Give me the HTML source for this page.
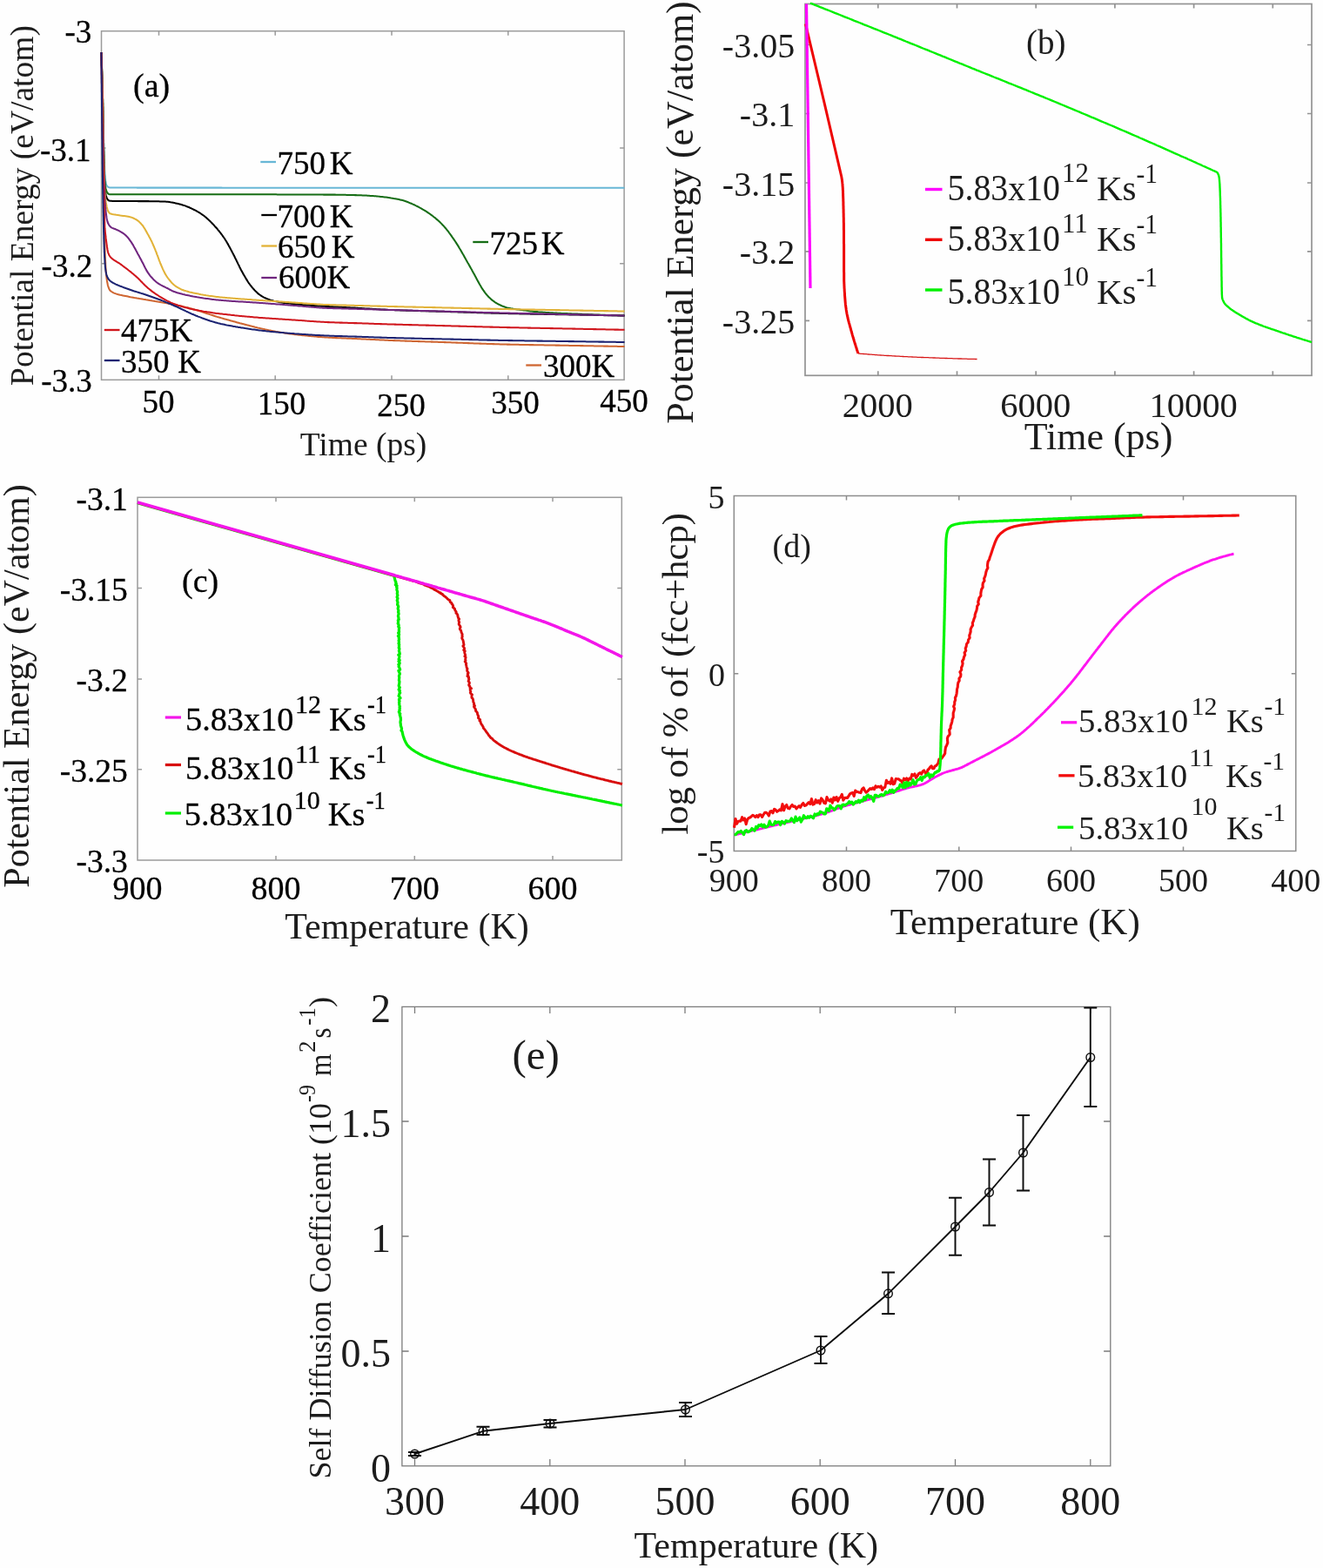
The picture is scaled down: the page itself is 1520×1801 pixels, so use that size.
<!DOCTYPE html>
<html lang="en">
<head>
<meta charset="utf-8">
<title>Potential energy, crystallinity and self diffusion figure</title>
<style>
html,body{margin:0;padding:0;background:#fefefe;}
body{width:1520px;height:1801px;overflow:hidden;}
svg{display:block;}
svg text{font-family:"Liberation Serif","Times New Roman",serif;fill:#1c1c1c;}
svg text.b{fill:#000;stroke:#000;stroke-width:0.3px;stroke-linejoin:round;}
</style>
</head>
<body>
<svg width="1520" height="1801" viewBox="0 0 1520 1801">
<defs><filter id="soft" x="0" y="0" width="100%" height="100%" filterUnits="userSpaceOnUse"><feGaussianBlur stdDeviation="0.45"/></filter></defs>
<rect width="1520" height="1801" fill="#fefefe"/>
<g filter="url(#soft)">
<rect x="116.5" y="35.7" width="600.6" height="400.6" fill="none" stroke="#9b9b9b" stroke-width="1.5"/>
<path d="M182.5 436.3v-5M182.5 35.7v5M316.2 436.3v-5M316.2 35.7v5M450 436.3v-5M450 35.7v5M583.8 436.3v-5M583.8 35.7v5M116.5 170h5M717.1 170h-5M116.5 302.7h5M717.1 302.7h-5" fill="none" stroke="#9b9b9b" stroke-width="1.5"/>
<polyline points="116.4,60 116.5,61.5 116.5,63 116.5,64.5 116.6,66 116.6,67.5 116.7,69 116.7,70.5 116.8,72 116.8,73.5 116.9,75 116.9,76.5 117,78 117,79.5 117.1,81 117.1,82.6 117.2,84.1 117.2,85.6 117.3,87.1 117.3,88.6 117.4,90.1 117.4,91.6 117.4,93.1 117.5,94.6 117.5,96.1 117.6,97.6 117.6,99.1 117.7,100.6 117.7,102.1 117.8,103.6 117.8,105.1 117.8,106.6 117.9,108.1 117.9,109.6 118,111.1 118,112.6 118,114.1 118.1,115.6 118.1,117.1 118.2,118.6 118.2,120.1 118.2,121.6 118.3,123.1 118.3,124.6 118.4,126.2 118.4,127.7 118.4,129.2 118.5,130.7 118.5,132.2 118.5,133.7 118.5,135.2 118.6,136.7 118.6,138.2 118.6,139.7 118.7,141.2 118.7,142.7 118.7,144.2 118.8,145.7 118.8,147.2 118.8,148.7 118.8,150.2 118.9,151.7 118.9,153.2 118.9,154.7 119,156.2 119,157.7 119,159.2 119.1,160.7 119.1,162.2 119.1,163.7 119.2,165.3 119.2,166.8 119.2,168.3 119.3,169.8 119.3,171.3 119.4,172.8 119.4,174.3 119.5,175.8 119.5,177.3 119.6,178.8 119.6,180.3 119.7,181.8 119.7,183.3 119.8,184.8 119.8,186.3 119.9,187.8 119.9,189.3 120,190.8 120.1,192.3 120.1,193.8 120.2,195.4 120.3,196.9 120.4,198.4 120.5,199.9 120.6,201.4 120.7,202.8 120.8,204.3 121,205.8 121.1,207.4 121.4,208.9 121.7,210.5 122.1,211.9 122.6,213.1 123.6,214.3 125,215.2 126.3,215.5 127.7,215.5 129,215.5 130.4,215.5 131.8,215.5 133.2,215.5 134.6,215.5 136,215.5 137.4,215.5 138.9,215.5 140.4,215.5 141.8,215.5 143.3,215.5 144.8,215.5 146.4,215.5 147.9,215.5 149.4,215.5 150.9,215.5 152.5,215.5 154,215.5 155.6,215.5 157.1,215.6 158.7,215.6 160.3,215.6 161.8,215.6 163.4,215.6 165,215.6 166.5,215.6 168.1,215.6 169.7,215.6 171.2,215.6 172.8,215.6 174.4,215.6 175.9,215.6 177.4,215.6 179,215.6 180.5,215.6 182,215.6 183.5,215.6 185,215.6 186.6,215.6 188.1,215.6 189.6,215.6 191.1,215.6 192.6,215.6 194.1,215.6 195.6,215.6 197.1,215.6 198.6,215.6 200.1,215.6 201.6,215.6 203.1,215.6 204.6,215.6 206.1,215.6 207.6,215.6 209.1,215.6 210.6,215.6 212.1,215.6 213.6,215.6 215.1,215.6 216.6,215.6 218.1,215.6 219.6,215.6 221.1,215.6 222.7,215.6 224.2,215.6 225.7,215.6 227.2,215.6 228.7,215.6 230.2,215.6 231.7,215.6 233.2,215.6 234.7,215.6 236.2,215.6 237.7,215.6 239.2,215.6 240.7,215.6 242.2,215.6 243.7,215.6 245.2,215.6 246.7,215.6 248.2,215.6 249.7,215.6 251.2,215.6 252.7,215.6 254.2,215.6 255.7,215.7 257.2,215.7 258.7,215.7 260.3,215.7 261.8,215.7 263.3,215.7 264.8,215.7 266.3,215.7 267.8,215.7 269.3,215.7 270.8,215.7 272.3,215.7 273.8,215.7 275.3,215.7 276.8,215.7 278.3,215.7 279.8,215.7 281.3,215.7 282.8,215.7 284.3,215.7 285.8,215.7 287.3,215.7 288.8,215.7 290.3,215.7 291.8,215.7 293.3,215.7 294.8,215.7 296.4,215.7 297.9,215.7 299.4,215.7 300.9,215.7 302.4,215.7 303.9,215.7 305.4,215.7 306.9,215.7 308.4,215.7 309.9,215.7 311.4,215.7 312.9,215.7 314.4,215.7 315.9,215.7 317.4,215.7 318.9,215.7 320.4,215.7 321.9,215.7 323.4,215.7 324.9,215.7 326.4,215.7 327.9,215.7 329.4,215.7 330.9,215.7 332.5,215.7 334,215.7 335.5,215.7 337,215.7 338.5,215.7 340,215.7 341.5,215.7 343,215.7 344.5,215.7 346,215.7 347.5,215.7 349,215.7 350.5,215.7 352,215.7 353.5,215.7 355,215.7 356.5,215.7 358,215.7 359.5,215.7 361,215.7 362.5,215.7 364,215.7 365.5,215.7 367,215.7 368.5,215.7 370.1,215.7 371.6,215.7 373.1,215.7 374.6,215.7 376.1,215.7 377.6,215.7 379.1,215.7 380.6,215.7 382.1,215.7 383.6,215.7 385.1,215.7 386.6,215.7 388.1,215.7 389.6,215.7 391.1,215.7 392.6,215.7 394.1,215.7 395.6,215.7 397.1,215.7 398.6,215.7 400.1,215.7 401.6,215.7 403.1,215.7 404.6,215.7 406.2,215.7 407.7,215.7 409.2,215.7 410.7,215.7 412.2,215.7 413.7,215.7 415.2,215.7 416.7,215.7 418.2,215.7 419.7,215.7 421.2,215.7 422.7,215.7 424.2,215.7 425.7,215.7 427.2,215.7 428.7,215.7 430.2,215.7 431.7,215.7 433.2,215.7 434.7,215.7 436.2,215.7 437.7,215.7 439.2,215.7 440.7,215.7 442.2,215.7 443.8,215.7 445.3,215.7 446.8,215.7 448.3,215.7 449.8,215.7 451.3,215.7 452.8,215.7 454.3,215.7 455.8,215.7 457.3,215.7 458.8,215.7 460.3,215.7 461.8,215.7 463.3,215.7 464.8,215.7 466.3,215.7 467.8,215.7 469.3,215.7 470.8,215.7 472.3,215.7 473.8,215.7 475.3,215.7 476.8,215.7 478.3,215.7 479.9,215.7 481.4,215.7 482.9,215.7 484.4,215.7 485.9,215.7 487.4,215.7 488.9,215.7 490.4,215.7 491.9,215.7 493.4,215.7 494.9,215.7 496.4,215.7 497.9,215.7 499.4,215.7 500.9,215.7 502.4,215.7 503.9,215.7 505.4,215.7 506.9,215.7 508.4,215.7 509.9,215.7 511.4,215.7 512.9,215.7 514.4,215.7 516,215.7 517.5,215.7 519,215.7 520.5,215.7 522,215.7 523.5,215.7 525,215.7 526.5,215.7 528,215.7 529.5,215.7 531,215.7 532.5,215.7 534,215.7 535.5,215.7 537,215.7 538.5,215.7 540,215.7 541.5,215.7 543,215.7 544.5,215.7 546,215.7 547.5,215.7 549,215.7 550.5,215.7 552,215.7 553.6,215.7 555.1,215.7 556.6,215.7 558.1,215.7 559.6,215.7 561.1,215.7 562.6,215.7 564.1,215.7 565.6,215.7 567.1,215.7 568.6,215.7 570.1,215.7 571.6,215.7 573.1,215.7 574.6,215.7 576.1,215.7 577.6,215.7 579.1,215.7 580.6,215.7 582.1,215.7 583.6,215.7 585.1,215.7 586.6,215.7 588.1,215.7 589.7,215.7 591.2,215.7 592.7,215.7 594.2,215.7 595.7,215.7 597.2,215.7 598.7,215.7 600.2,215.7 601.7,215.7 603.2,215.7 604.7,215.7 606.2,215.7 607.7,215.7 609.2,215.7 610.7,215.7 612.2,215.7 613.7,215.7 615.2,215.7 616.7,215.7 618.2,215.7 619.7,215.7 621.2,215.7 622.7,215.7 624.2,215.7 625.7,215.7 627.3,215.7 628.8,215.7 630.3,215.7 631.8,215.7 633.3,215.7 634.8,215.7 636.3,215.7 637.8,215.7 639.3,215.7 640.8,215.7 642.3,215.7 643.8,215.7 645.3,215.7 646.8,215.7 648.3,215.7 649.8,215.7 651.3,215.7 652.8,215.7 654.3,215.7 655.8,215.7 657.3,215.7 658.8,215.7 660.3,215.7 661.8,215.7 663.4,215.7 664.9,215.7 666.4,215.7 667.9,215.7 669.4,215.7 670.9,215.7 672.4,215.7 673.9,215.7 675.4,215.7 676.9,215.7 678.4,215.7 679.9,215.7 681.4,215.7 682.9,215.7 684.4,215.7 685.9,215.7 687.4,215.7 688.9,215.7 690.4,215.7 691.9,215.7 693.4,215.7 694.9,215.7 696.4,215.7 697.9,215.7 699.5,215.7 701,215.7 702.5,215.7 704,215.7 705.5,215.7 707,215.7 708.5,215.7 710,215.7 711.5,215.7 713,215.7 714.5,215.7 716,215.7 717.5,215.7" fill="none" stroke="#68b7d6" stroke-width="2.05" stroke-linejoin="round" />
<polyline points="116.4,60 116.5,61.5 116.5,63 116.6,64.5 116.6,66 116.7,67.5 116.7,69 116.8,70.5 116.8,72 116.9,73.5 116.9,75 117,76.5 117,78 117.1,79.5 117.1,81 117.2,82.5 117.2,84 117.2,85.5 117.3,87 117.3,88.5 117.4,90.1 117.4,91.6 117.5,93.1 117.5,94.6 117.6,96.1 117.6,97.6 117.6,99.1 117.7,100.6 117.7,102.1 117.8,103.6 117.8,105.1 117.9,106.6 117.9,108.1 117.9,109.6 118,111.1 118,112.6 118.1,114.1 118.1,115.6 118.1,117.1 118.2,118.6 118.2,120.1 118.2,121.6 118.3,123.1 118.3,124.6 118.3,126.1 118.4,127.6 118.4,129.1 118.4,130.6 118.5,132.1 118.5,133.6 118.5,135.1 118.5,136.6 118.6,138.1 118.6,139.6 118.6,141.1 118.6,142.7 118.7,144.2 118.7,145.7 118.7,147.2 118.7,148.7 118.8,150.2 118.8,151.7 118.8,153.2 118.9,154.7 118.9,156.2 118.9,157.7 118.9,159.2 119,160.7 119,162.2 119,163.7 119.1,165.2 119.1,166.7 119.1,168.2 119.1,169.7 119.2,171.2 119.2,172.7 119.3,174.2 119.3,175.7 119.3,177.2 119.4,178.7 119.4,180.2 119.4,181.7 119.5,183.2 119.5,184.7 119.6,186.2 119.6,187.8 119.6,189.3 119.7,190.8 119.7,192.3 119.8,193.8 119.8,195.3 119.9,196.8 119.9,198.3 120,199.8 120.1,201.3 120.2,202.8 120.2,204.3 120.3,205.8 120.4,207.3 120.5,208.8 120.6,210.3 120.8,211.8 120.9,213.4 121.2,214.9 121.5,216.5 121.8,217.9 122.2,219.3 122.8,220.5 123.7,221.9 125,223 126.3,223.3 127.5,223.3 128.7,223.3 130,223.3 131.4,223.3 132.7,223.3 134.1,223.3 135.5,223.3 136.9,223.3 138.3,223.3 139.7,223.3 141.2,223.3 142.7,223.3 144.2,223.3 145.7,223.3 147.2,223.3 148.8,223.3 150.3,223.3 151.9,223.3 153.5,223.3 155,223.3 156.6,223.3 158.2,223.3 159.8,223.3 161.4,223.3 163,223.3 164.6,223.3 166.2,223.3 167.8,223.3 169.4,223.3 171,223.3 172.6,223.3 174.2,223.3 175.7,223.3 177.3,223.3 178.9,223.3 180.4,223.3 181.9,223.3 183.4,223.3 184.9,223.3 186.4,223.3 188,223.3 189.5,223.3 191,223.3 192.5,223.3 194,223.3 195.5,223.3 197,223.3 198.5,223.3 200,223.3 201.5,223.3 203,223.3 204.5,223.3 206,223.3 207.5,223.3 209,223.3 210.5,223.3 212,223.3 213.5,223.3 215,223.3 216.5,223.3 218,223.3 219.5,223.3 221,223.3 222.5,223.3 224,223.3 225.5,223.3 227,223.3 228.5,223.3 230,223.3 231.5,223.3 233.1,223.3 234.6,223.3 236.1,223.3 237.6,223.3 239.1,223.3 240.6,223.3 242.1,223.3 243.6,223.3 245.1,223.3 246.6,223.3 248.1,223.3 249.6,223.3 251.1,223.3 252.6,223.3 254.1,223.3 255.6,223.3 257.1,223.3 258.6,223.3 260.1,223.3 261.6,223.3 263.1,223.3 264.6,223.3 266.1,223.3 267.6,223.3 269.1,223.3 270.6,223.3 272.1,223.3 273.6,223.3 275.1,223.3 276.6,223.3 278.2,223.3 279.7,223.3 281.2,223.3 282.7,223.3 284.2,223.3 285.7,223.3 287.2,223.3 288.7,223.3 290.2,223.3 291.7,223.3 293.2,223.3 294.7,223.3 296.2,223.3 297.7,223.3 299.2,223.3 300.7,223.3 302.2,223.3 303.7,223.3 305.2,223.3 306.7,223.3 308.2,223.3 309.7,223.3 311.2,223.3 312.7,223.3 314.2,223.3 315.7,223.3 317.2,223.3 318.7,223.4 320.2,223.4 321.7,223.4 323.3,223.4 324.8,223.4 326.3,223.4 327.8,223.4 329.3,223.4 330.8,223.4 332.3,223.4 333.8,223.4 335.3,223.4 336.8,223.4 338.3,223.4 339.8,223.4 341.3,223.5 342.8,223.5 344.3,223.5 345.8,223.5 347.3,223.5 348.8,223.5 350.3,223.5 351.8,223.5 353.3,223.5 354.8,223.5 356.3,223.5 357.8,223.5 359.3,223.5 360.8,223.5 362.3,223.5 363.8,223.5 365.3,223.5 366.8,223.5 368.4,223.5 369.9,223.5 371.4,223.6 372.9,223.6 374.4,223.6 375.9,223.6 377.4,223.6 378.9,223.6 380.4,223.6 381.9,223.6 383.4,223.6 384.9,223.6 386.4,223.7 387.9,223.7 389.4,223.7 390.9,223.7 392.4,223.7 393.9,223.8 395.4,223.8 396.9,223.8 398.4,223.9 399.9,223.9 401.4,223.9 402.9,224 404.4,224 405.9,224 407.4,224.1 408.9,224.1 410.4,224.2 411.9,224.2 413.4,224.3 415,224.3 416.5,224.4 418,224.5 419.5,224.5 421,224.6 422.5,224.7 424,224.8 425.5,224.9 427,225 428.5,225.1 430,225.2 431.5,225.3 433,225.4 434.5,225.6 436,225.7 437.5,225.9 439,226 440.5,226.2 442,226.4 443.5,226.6 445,226.8 446.5,227 448,227.2 449.5,227.5 451,227.7 452.4,228 453.9,228.2 455.4,228.5 456.8,228.8 458.3,229.1 459.7,229.4 461.2,229.7 462.6,230.1 464,230.5 465.5,231 466.9,231.5 468.3,232 469.7,232.6 471.1,233.2 472.6,233.8 473.9,234.4 475.3,235 476.7,235.7 478.1,236.4 479.4,237 480.7,237.7 482,238.4 483.4,239.1 484.6,239.8 485.9,240.6 487.2,241.3 488.5,242.1 489.8,242.9 491.1,243.8 492.3,244.6 493.6,245.5 494.8,246.4 496.1,247.3 497.3,248.2 498.5,249.2 499.7,250.1 500.8,251.1 502,252.1 503.1,253 504.2,254 505.3,255 506.4,256.1 507.4,257.1 508.4,258.2 509.4,259.2 510.4,260.4 511.4,261.5 512.4,262.7 513.3,263.8 514.3,265 515.2,266.2 516.1,267.5 517,268.7 517.9,269.9 518.8,271.2 519.6,272.4 520.5,273.6 521.4,274.9 522.2,276.1 523,277.3 523.9,278.6 524.7,279.9 525.5,281.1 526.3,282.4 527.1,283.7 527.8,285 528.6,286.3 529.4,287.6 530.1,288.9 530.9,290.2 531.6,291.5 532.4,292.8 533.1,294.1 533.8,295.4 534.6,296.7 535.3,298 536.1,299.4 536.8,300.7 537.5,302 538.3,303.3 539,304.6 539.8,305.9 540.5,307.2 541.2,308.5 542,309.8 542.7,311.2 543.4,312.5 544.1,313.8 544.9,315.1 545.6,316.4 546.3,317.7 547,319.1 547.7,320.4 548.4,321.7 549.1,323.1 549.9,324.4 550.6,325.7 551.3,327 552.1,328.3 552.8,329.6 553.6,330.9 554.4,332.1 555.3,333.4 556.2,334.6 557,335.9 558,337.1 558.9,338.3 559.9,339.4 560.9,340.5 561.9,341.6 563,342.6 564.1,343.6 565.3,344.6 566.5,345.5 567.7,346.4 568.9,347.3 570.2,348 571.5,348.8 572.8,349.5 574.2,350.2 575.6,350.8 577,351.5 578.4,352 579.8,352.5 581.2,353 582.6,353.4 584.1,353.7 585.5,354 587,354.3 588.5,354.5 589.9,354.8 591.4,355 592.9,355.2 594.4,355.4 596,355.6 597.5,355.8 599,356 600.5,356.2 601.9,356.4 603.4,356.6 604.9,356.8 606.4,357 607.9,357.2 609.4,357.4 610.9,357.5 612.4,357.7 613.9,357.9 615.4,358 616.9,358.1 618.4,358.3 619.9,358.4 621.4,358.5 622.9,358.6 624.4,358.7 625.9,358.8 627.4,358.9 628.9,359 630.4,359.1 631.9,359.2 633.4,359.3 634.9,359.3 636.4,359.4 637.9,359.5 639.4,359.6 640.9,359.7 642.4,359.7 643.9,359.8 645.4,359.9 646.9,359.9 648.4,360 649.9,360.1 651.4,360.1 652.9,360.2 654.4,360.3 655.9,360.3 657.4,360.4 658.9,360.5 660.4,360.5 661.9,360.6 663.4,360.6 664.9,360.7 666.4,360.8 667.9,360.8 669.4,360.9 670.9,361 672.4,361 673.9,361.1 675.4,361.1 676.9,361.2 678.4,361.2 679.9,361.3 681.4,361.4 682.9,361.4 684.4,361.5 685.9,361.5 687.4,361.6 688.9,361.6 690.5,361.7 692,361.7 693.5,361.8 695,361.8 696.5,361.9 698,361.9 699.5,362 701,362 702.5,362.1 704,362.1 705.5,362.2 707,362.2 708.5,362.3 710,362.3 711.5,362.3 713,362.4 714.5,362.4 716,362.5 717.5,362.5" fill="none" stroke="#176d16" stroke-width="2.05" stroke-linejoin="round" />
<polyline points="116.4,60 116.5,61.5 116.5,63 116.6,64.5 116.6,66 116.7,67.5 116.7,69 116.8,70.5 116.8,72 116.9,73.5 116.9,75 117,76.5 117,78.1 117.1,79.6 117.1,81.1 117.2,82.6 117.2,84.1 117.3,85.6 117.3,87.1 117.4,88.6 117.4,90.1 117.4,91.6 117.5,93.1 117.5,94.6 117.6,96.1 117.6,97.6 117.7,99.1 117.7,100.6 117.7,102.1 117.8,103.6 117.8,105.1 117.9,106.6 117.9,108.1 117.9,109.6 118,111.2 118,112.7 118.1,114.2 118.1,115.7 118.1,117.2 118.2,118.7 118.2,120.2 118.2,121.7 118.3,123.2 118.3,124.7 118.3,126.2 118.4,127.7 118.4,129.2 118.4,130.7 118.4,132.2 118.5,133.7 118.5,135.2 118.5,136.7 118.5,138.2 118.6,139.7 118.6,141.2 118.6,142.8 118.6,144.3 118.7,145.8 118.7,147.3 118.7,148.8 118.7,150.3 118.8,151.8 118.8,153.3 118.8,154.8 118.8,156.3 118.9,157.8 118.9,159.3 118.9,160.8 118.9,162.3 119,163.8 119,165.3 119,166.8 119,168.3 119.1,169.8 119.1,171.3 119.1,172.9 119.2,174.4 119.2,175.9 119.2,177.4 119.3,178.9 119.3,180.4 119.3,181.9 119.4,183.4 119.4,184.9 119.4,186.4 119.5,187.9 119.5,189.4 119.6,190.9 119.6,192.4 119.6,193.9 119.7,195.4 119.7,197 119.8,198.5 119.8,200 119.9,201.5 119.9,203 120,204.5 120,206 120.1,207.5 120.2,209 120.2,210.5 120.3,212 120.4,213.5 120.5,215 120.6,216.5 120.8,218 120.9,219.6 121.1,221.2 121.4,222.7 121.7,224.2 122.1,225.6 122.5,226.9 123.1,228.3 124.1,229.7 125.4,230.6 126.6,230.8 127.8,230.8 129.1,230.9 130.5,230.9 131.9,230.9 133.4,230.9 135,230.9 136.5,230.9 138.1,230.9 139.7,230.9 141.3,231 143,231 144.6,231 146.2,231 147.7,231 149.3,231 150.8,231 152.3,231 153.8,231 155.3,231 156.8,231 158.3,231.1 159.8,231.1 161.3,231.1 162.8,231.1 164.3,231.1 165.8,231.1 167.3,231.1 168.8,231.1 170.4,231.1 171.9,231.2 173.4,231.2 174.9,231.2 176.4,231.2 177.9,231.2 179.4,231.3 180.9,231.3 182.4,231.3 183.9,231.4 185.4,231.4 186.9,231.5 188.4,231.5 189.9,231.6 191.4,231.7 192.9,231.8 194.4,232 195.9,232.3 197.4,232.5 198.9,232.8 200.3,233.1 201.8,233.4 203.3,233.7 204.8,234 206.2,234.4 207.7,234.8 209.1,235.2 210.6,235.7 212,236.1 213.4,236.6 214.8,237.2 216.2,237.7 217.6,238.3 219,239 220.4,239.6 221.8,240.3 223.1,241 224.5,241.7 225.8,242.4 227.1,243.2 228.4,243.9 229.7,244.7 230.9,245.5 232.1,246.3 233.3,247.2 234.5,248 235.7,249 236.9,249.9 238,250.9 239.1,251.9 240.2,253 241.3,254 242.4,255.1 243.5,256.2 244.5,257.3 245.6,258.4 246.6,259.6 247.6,260.7 248.6,261.8 249.6,262.9 250.5,264.1 251.5,265.2 252.4,266.4 253.4,267.6 254.3,268.8 255.2,270 256.1,271.3 256.9,272.5 257.8,273.7 258.6,275 259.4,276.3 260.2,277.5 260.9,278.8 261.7,280.1 262.4,281.4 263.1,282.8 263.9,284.1 264.6,285.4 265.3,286.8 266,288.1 266.7,289.4 267.4,290.8 268.1,292.1 268.8,293.4 269.5,294.8 270.1,296.1 270.8,297.5 271.5,298.8 272.1,300.2 272.8,301.5 273.4,302.9 274.1,304.3 274.8,305.6 275.4,307 276.1,308.3 276.8,309.7 277.5,311 278.2,312.3 278.9,313.6 279.6,314.9 280.4,316.2 281.2,317.5 281.9,318.8 282.7,320.1 283.5,321.4 284.3,322.7 285.1,324 286,325.3 286.9,326.5 287.7,327.7 288.7,328.9 289.6,330 290.6,331.1 291.6,332.3 292.6,333.4 293.7,334.5 294.8,335.5 295.9,336.6 297.1,337.6 298.3,338.5 299.5,339.3 300.7,340.1 302,340.9 303.3,341.6 304.7,342.3 306.1,342.9 307.5,343.5 308.9,344 310.3,344.5 311.7,344.9 313.2,345.3 314.6,345.7 316.1,346 317.6,346.3 319.1,346.6 320.6,346.9 322,347.2 323.5,347.4 325,347.7 326.5,347.9 328,348.1 329.5,348.2 331,348.4 332.5,348.6 334,348.8 335.5,348.9 337,349.1 338.5,349.2 340,349.4 341.5,349.5 343,349.7 344.5,349.8 346,349.9 347.5,350.1 349,350.2 350.5,350.3 352,350.4 353.5,350.5 355,350.6 356.5,350.7 358,350.9 359.5,351 361,351.1 362.5,351.2 364,351.3 365.5,351.4 367,351.5 368.5,351.6 370,351.6 371.5,351.7 373,351.8 374.5,351.9 376,352 377.5,352.1 379,352.2 380.5,352.2 382,352.3 383.5,352.4 385,352.5 386.5,352.5 388,352.6 389.5,352.7 391,352.8 392.6,352.8 394.1,352.9 395.6,353 397.1,353.1 398.6,353.2 400.1,353.2 401.6,353.3 403.1,353.4 404.6,353.5 406.1,353.6 407.6,353.6 409.1,353.7 410.6,353.8 412.1,353.9 413.6,354 415.1,354.1 416.6,354.2 418.1,354.3 419.6,354.4 421.1,354.5 422.6,354.5 424.1,354.6 425.6,354.7 427.1,354.8 428.6,354.9 430.1,355 431.6,355.1 433.1,355.2 434.6,355.2 436.1,355.3 437.6,355.4 439.1,355.5 440.6,355.6 442.1,355.6 443.7,355.7 445.2,355.8 446.7,355.9 448.2,355.9 449.7,356 451.2,356 452.7,356.1 454.2,356.2 455.7,356.2 457.2,356.3 458.7,356.3 460.2,356.4 461.7,356.4 463.2,356.5 464.7,356.5 466.2,356.6 467.7,356.6 469.2,356.7 470.7,356.7 472.2,356.8 473.7,356.8 475.2,356.9 476.7,356.9 478.2,357 479.7,357 481.3,357 482.8,357.1 484.3,357.1 485.8,357.2 487.3,357.2 488.8,357.3 490.3,357.3 491.8,357.3 493.3,357.4 494.8,357.4 496.3,357.5 497.8,357.5 499.3,357.5 500.8,357.6 502.3,357.6 503.8,357.7 505.3,357.7 506.8,357.8 508.3,357.8 509.8,357.8 511.3,357.9 512.9,357.9 514.4,358 515.9,358 517.4,358.1 518.9,358.1 520.4,358.2 521.9,358.2 523.4,358.3 524.9,358.3 526.4,358.4 527.9,358.4 529.4,358.5 530.9,358.5 532.4,358.6 533.9,358.6 535.4,358.7 536.9,358.7 538.4,358.8 539.9,358.8 541.4,358.9 542.9,358.9 544.4,359 545.9,359 547.5,359.1 549,359.1 550.5,359.2 552,359.2 553.5,359.3 555,359.3 556.5,359.4 558,359.4 559.5,359.4 561,359.5 562.5,359.5 564,359.6 565.5,359.6 567,359.7 568.5,359.7 570,359.7 571.5,359.8 573,359.8 574.5,359.9 576,359.9 577.5,359.9 579,360 580.6,360 582.1,360 583.6,360.1 585.1,360.1 586.6,360.1 588.1,360.2 589.6,360.2 591.1,360.2 592.6,360.3 594.1,360.3 595.6,360.3 597.1,360.4 598.6,360.4 600.1,360.4 601.6,360.4 603.1,360.5 604.6,360.5 606.1,360.5 607.6,360.5 609.1,360.6 610.6,360.6 612.2,360.6 613.7,360.7 615.2,360.7 616.7,360.7 618.2,360.7 619.7,360.8 621.2,360.8 622.7,360.8 624.2,360.8 625.7,360.9 627.2,360.9 628.7,360.9 630.2,360.9 631.7,361 633.2,361 634.7,361 636.2,361 637.7,361.1 639.2,361.1 640.7,361.1 642.3,361.1 643.8,361.2 645.3,361.2 646.8,361.2 648.3,361.2 649.8,361.3 651.3,361.3 652.8,361.3 654.3,361.4 655.8,361.4 657.3,361.4 658.8,361.4 660.3,361.5 661.8,361.5 663.3,361.5 664.8,361.5 666.3,361.6 667.8,361.6 669.3,361.6 670.8,361.7 672.4,361.7 673.9,361.7 675.4,361.7 676.9,361.8 678.4,361.8 679.9,361.8 681.4,361.8 682.9,361.9 684.4,361.9 685.9,361.9 687.4,362 688.9,362 690.4,362 691.9,362 693.4,362.1 694.9,362.1 696.4,362.1 697.9,362.1 699.4,362.2 700.9,362.2 702.5,362.2 704,362.3 705.5,362.3 707,362.3 708.5,362.3 710,362.4 711.5,362.4 713,362.4 714.5,362.4 716,362.5 717.5,362.5" fill="none" stroke="#050505" stroke-width="2.05" stroke-linejoin="round" />
<polyline points="116.4,60 116.5,61.5 116.5,63 116.6,64.5 116.6,66 116.7,67.5 116.7,69 116.8,70.5 116.8,72 116.9,73.5 116.9,75 117,76.5 117,78 117.1,79.5 117.1,81 117.2,82.5 117.2,84 117.3,85.5 117.3,87 117.4,88.6 117.4,90.1 117.5,91.6 117.5,93.1 117.6,94.6 117.6,96.1 117.6,97.6 117.7,99.1 117.7,100.6 117.8,102.1 117.8,103.6 117.8,105.1 117.9,106.6 117.9,108.1 118,109.6 118,111.1 118,112.6 118.1,114.1 118.1,115.6 118.1,117.1 118.2,118.6 118.2,120.1 118.2,121.6 118.3,123.1 118.3,124.6 118.3,126.1 118.3,127.6 118.4,129.1 118.4,130.6 118.4,132.1 118.5,133.6 118.5,135.1 118.5,136.7 118.5,138.2 118.5,139.7 118.6,141.2 118.6,142.7 118.6,144.2 118.6,145.7 118.7,147.2 118.7,148.7 118.7,150.2 118.7,151.7 118.7,153.2 118.8,154.7 118.8,156.2 118.8,157.7 118.8,159.2 118.8,160.7 118.9,162.2 118.9,163.7 118.9,165.2 118.9,166.7 119,168.2 119,169.7 119,171.2 119,172.7 119.1,174.2 119.1,175.7 119.1,177.2 119.2,178.7 119.2,180.2 119.2,181.8 119.3,183.3 119.3,184.8 119.3,186.3 119.4,187.8 119.4,189.3 119.4,190.8 119.5,192.3 119.5,193.8 119.6,195.3 119.6,196.8 119.6,198.3 119.7,199.8 119.7,201.3 119.8,202.8 119.8,204.3 119.9,205.8 119.9,207.3 120,208.8 120,210.3 120.1,211.8 120.2,213.3 120.2,214.8 120.3,216.3 120.4,217.8 120.5,219.3 120.5,220.8 120.6,222.3 120.8,223.8 120.9,225.4 121,226.9 121.2,228.4 121.4,229.9 121.6,231.4 121.8,232.9 122.1,234.4 122.3,235.8 122.6,237.3 123,238.7 123.4,240.3 124,241.9 124.7,243.4 125.5,244.5 126.3,245.2 127.5,245.6 128.8,246 130.4,246.3 132,246.5 133.7,246.8 135.3,247 136.8,247.2 138.3,247.5 139.8,247.7 141.3,247.9 142.8,248.1 144.3,248.3 145.8,248.5 147.3,248.7 148.7,249.1 150.2,249.4 151.6,249.9 153.1,250.5 154.4,251.1 155.8,251.8 157,252.5 158.2,253.4 159.4,254.3 160.5,255.4 161.6,256.5 162.6,257.6 163.6,258.7 164.5,259.9 165.3,261.2 166.1,262.4 166.9,263.7 167.6,265.1 168.4,266.4 169.1,267.7 169.8,269 170.6,270.3 171.3,271.7 172,273 172.7,274.3 173.4,275.7 174.1,277 174.7,278.4 175.3,279.7 175.9,281.1 176.5,282.5 177.1,283.9 177.7,285.3 178.3,286.7 178.8,288.1 179.4,289.4 179.9,290.9 180.4,292.3 181,293.7 181.5,295.1 182,296.5 182.5,297.9 183,299.3 183.6,300.7 184.1,302.1 184.7,303.5 185.3,304.9 185.9,306.3 186.5,307.7 187.1,309.1 187.7,310.4 188.4,311.8 189,313.1 189.7,314.4 190.5,315.7 191.3,317 192.1,318.2 193,319.5 193.9,320.7 194.9,321.9 195.8,323 196.8,324.2 197.8,325.3 198.9,326.4 200,327.3 201.2,328.2 202.4,329.1 203.7,329.9 205,330.7 206.4,331.4 207.8,332.1 209.1,332.7 210.5,333.2 211.9,333.7 213.3,334.1 214.8,334.6 216.2,335 217.7,335.4 219.2,335.7 220.6,336.1 222.1,336.4 223.6,336.7 225.1,337 226.5,337.3 228,337.6 229.5,337.9 231,338.2 232.4,338.4 233.9,338.7 235.4,338.9 236.9,339.2 238.4,339.4 239.9,339.7 241.4,339.9 242.8,340.1 244.3,340.3 245.8,340.5 247.3,340.7 248.8,340.9 250.3,341 251.8,341.2 253.3,341.4 254.8,341.5 256.3,341.7 257.8,341.8 259.3,341.9 260.8,342.1 262.3,342.2 263.8,342.3 265.3,342.5 266.7,342.6 268.2,342.7 269.7,342.8 271.2,343 272.7,343.1 274.2,343.2 275.7,343.3 277.2,343.4 278.7,343.5 280.3,343.6 281.8,343.7 283.3,343.8 284.8,343.9 286.3,344 287.8,344.1 289.3,344.2 290.8,344.4 292.3,344.5 293.8,344.6 295.3,344.7 296.8,344.8 298.3,344.9 299.8,345 301.3,345.1 302.8,345.2 304.3,345.3 305.8,345.4 307.3,345.5 308.8,345.6 310.3,345.7 311.8,345.8 313.3,345.9 314.8,346 316.3,346.1 317.8,346.2 319.3,346.3 320.8,346.4 322.3,346.5 323.8,346.6 325.3,346.7 326.8,346.8 328.3,346.9 329.8,347 331.3,347.1 332.8,347.2 334.3,347.3 335.8,347.4 337.3,347.5 338.8,347.6 340.3,347.7 341.8,347.8 343.3,347.9 344.8,348 346.3,348.1 347.8,348.2 349.3,348.4 350.8,348.5 352.3,348.6 353.8,348.7 355.3,348.8 356.8,348.9 358.3,349 359.8,349.1 361.3,349.2 362.8,349.3 364.3,349.4 365.8,349.5 367.3,349.6 368.8,349.7 370.3,349.8 371.8,349.9 373.3,349.9 374.8,350 376.3,350 377.8,350.1 379.3,350.2 380.8,350.2 382.3,350.2 383.8,350.3 385.3,350.3 386.8,350.4 388.3,350.4 389.8,350.5 391.3,350.5 392.8,350.5 394.3,350.6 395.8,350.6 397.3,350.6 398.8,350.7 400.3,350.7 401.8,350.7 403.3,350.8 404.8,350.8 406.3,350.8 407.8,350.9 409.3,350.9 410.8,351 412.3,351 413.9,351 415.4,351.1 416.9,351.1 418.4,351.2 419.9,351.2 421.4,351.2 422.9,351.3 424.4,351.3 425.9,351.4 427.4,351.4 428.9,351.4 430.4,351.5 431.9,351.5 433.4,351.6 434.9,351.6 436.4,351.6 437.9,351.7 439.4,351.7 440.9,351.8 442.4,351.8 443.9,351.8 445.4,351.9 446.9,351.9 448.4,352 449.9,352 451.4,352 452.9,352.1 454.4,352.1 455.9,352.1 457.4,352.2 458.9,352.2 460.4,352.3 461.9,352.3 463.5,352.3 465,352.4 466.5,352.4 468,352.4 469.5,352.5 471,352.5 472.5,352.5 474,352.6 475.5,352.6 477,352.6 478.5,352.7 480,352.7 481.5,352.7 483,352.8 484.5,352.8 486,352.8 487.5,352.9 489,352.9 490.5,352.9 492,353 493.5,353 495,353 496.5,353.1 498,353.1 499.5,353.1 501,353.2 502.5,353.2 504,353.2 505.5,353.3 507,353.3 508.5,353.4 510.1,353.4 511.6,353.4 513.1,353.5 514.6,353.5 516.1,353.5 517.6,353.6 519.1,353.6 520.6,353.6 522.1,353.7 523.6,353.7 525.1,353.7 526.6,353.8 528.1,353.8 529.6,353.8 531.1,353.9 532.6,353.9 534.1,354 535.6,354 537.1,354 538.6,354.1 540.1,354.1 541.6,354.1 543.1,354.2 544.6,354.2 546.1,354.2 547.6,354.3 549.1,354.3 550.6,354.3 552.1,354.4 553.6,354.4 555.1,354.5 556.6,354.5 558.2,354.5 559.7,354.6 561.2,354.6 562.7,354.6 564.2,354.7 565.7,354.7 567.2,354.7 568.7,354.8 570.2,354.8 571.7,354.8 573.2,354.9 574.7,354.9 576.2,354.9 577.7,355 579.2,355 580.7,355 582.2,355 583.7,355.1 585.2,355.1 586.7,355.1 588.2,355.2 589.7,355.2 591.2,355.2 592.7,355.2 594.2,355.3 595.7,355.3 597.2,355.3 598.7,355.4 600.2,355.4 601.7,355.4 603.2,355.4 604.8,355.5 606.3,355.5 607.8,355.5 609.3,355.6 610.8,355.6 612.3,355.6 613.8,355.6 615.3,355.7 616.8,355.7 618.3,355.7 619.8,355.7 621.3,355.8 622.8,355.8 624.3,355.8 625.8,355.8 627.3,355.9 628.8,355.9 630.3,355.9 631.8,355.9 633.3,356 634.8,356 636.3,356 637.8,356.1 639.3,356.1 640.8,356.1 642.3,356.1 643.8,356.2 645.3,356.2 646.8,356.2 648.3,356.2 649.9,356.3 651.4,356.3 652.9,356.3 654.4,356.4 655.9,356.4 657.4,356.4 658.9,356.4 660.4,356.5 661.9,356.5 663.4,356.5 664.9,356.5 666.4,356.6 667.9,356.6 669.4,356.6 670.9,356.7 672.4,356.7 673.9,356.7 675.4,356.7 676.9,356.8 678.4,356.8 679.9,356.8 681.4,356.8 682.9,356.9 684.4,356.9 685.9,356.9 687.4,357 688.9,357 690.4,357 691.9,357 693.4,357.1 695,357.1 696.5,357.1 698,357.1 699.5,357.2 701,357.2 702.5,357.2 704,357.3 705.5,357.3 707,357.3 708.5,357.3 710,357.4 711.5,357.4 713,357.4 714.5,357.4 716,357.5 717.5,357.5" fill="none" stroke="#e2b237" stroke-width="2.05" stroke-linejoin="round" />
<polyline points="116.4,60 116.4,61.5 116.5,63 116.5,64.5 116.6,66 116.6,67.5 116.7,69 116.7,70.5 116.8,72 116.8,73.5 116.9,75 116.9,76.5 116.9,78 117,79.5 117,81 117.1,82.5 117.1,84 117.2,85.6 117.2,87.1 117.2,88.6 117.3,90.1 117.3,91.6 117.4,93.1 117.4,94.6 117.4,96.1 117.5,97.6 117.5,99.1 117.6,100.6 117.6,102.1 117.6,103.6 117.7,105.1 117.7,106.6 117.7,108.1 117.8,109.6 117.8,111.1 117.8,112.6 117.9,114.1 117.9,115.6 117.9,117.1 118,118.6 118,120.1 118,121.6 118.1,123.1 118.1,124.6 118.1,126.1 118.1,127.6 118.2,129.1 118.2,130.6 118.2,132.1 118.2,133.7 118.3,135.2 118.3,136.7 118.3,138.2 118.3,139.7 118.4,141.2 118.4,142.7 118.4,144.2 118.4,145.7 118.5,147.2 118.5,148.7 118.5,150.2 118.5,151.7 118.5,153.2 118.6,154.7 118.6,156.2 118.6,157.7 118.6,159.2 118.7,160.7 118.7,162.2 118.7,163.7 118.7,165.2 118.8,166.7 118.8,168.2 118.8,169.7 118.8,171.2 118.9,172.7 118.9,174.2 118.9,175.7 118.9,177.3 119,178.8 119,180.3 119,181.8 119.1,183.3 119.1,184.8 119.1,186.3 119.2,187.8 119.2,189.3 119.2,190.8 119.3,192.3 119.3,193.8 119.3,195.3 119.3,196.8 119.4,198.3 119.4,199.8 119.4,201.3 119.5,202.8 119.5,204.3 119.6,205.8 119.6,207.3 119.6,208.8 119.7,210.3 119.7,211.8 119.8,213.3 119.8,214.8 119.9,216.3 119.9,217.8 120,219.3 120,220.8 120.1,222.3 120.2,223.9 120.2,225.4 120.3,226.9 120.4,228.4 120.5,229.9 120.5,231.4 120.7,232.9 120.8,234.4 120.9,235.9 121,237.4 121.2,238.9 121.3,240.4 121.5,241.9 121.6,243.3 121.8,244.8 122,246.3 122.2,247.8 122.4,249.4 122.6,250.9 122.9,252.3 123.3,253.8 123.7,255.2 124.2,256.6 125,258 125.9,259.3 126.8,260.4 127.9,261.3 129.1,261.9 130.6,262.5 132.1,263 133.5,263.6 134.9,264.3 136.3,264.9 137.6,265.6 138.9,266.3 140.2,267.1 141.4,267.9 142.6,268.8 143.8,269.8 144.9,270.8 146,271.9 147,273 147.9,274.2 148.8,275.4 149.7,276.6 150.6,277.8 151.4,279.1 152.2,280.4 153,281.6 153.7,283 154.4,284.3 155.2,285.6 155.9,286.9 156.6,288.3 157.3,289.6 158,290.9 158.7,292.2 159.5,293.5 160.2,294.9 160.9,296.2 161.6,297.5 162.3,298.8 163,300.2 163.7,301.5 164.4,302.8 165.1,304.2 165.7,305.6 166.4,306.9 167.1,308.3 167.8,309.6 168.5,310.9 169.3,312.1 170.1,313.4 171,314.6 171.9,315.9 172.8,317.1 173.8,318.2 174.8,319.3 175.8,320.4 176.8,321.5 178,322.5 179.1,323.5 180.3,324.5 181.5,325.3 182.7,326.1 184,326.9 185.3,327.6 186.7,328.3 188,329 189.4,329.7 190.7,330.4 192.1,331 193.4,331.7 194.7,332.5 196.1,333.2 197.4,333.9 198.8,334.5 200.2,335.1 201.6,335.5 203,336 204.4,336.4 205.8,336.8 207.3,337.2 208.7,337.6 210.2,338 211.7,338.3 213.1,338.7 214.6,339 216.1,339.3 217.6,339.6 219.1,339.9 220.6,340.2 222.1,340.5 223.5,340.7 225,341 226.5,341.3 228,341.5 229.5,341.8 230.9,342 232.4,342.2 233.9,342.5 235.4,342.7 236.9,342.9 238.4,343.1 239.9,343.3 241.4,343.5 242.9,343.7 244.4,343.9 245.8,344.1 247.3,344.2 248.8,344.4 250.3,344.5 251.8,344.7 253.3,344.8 254.8,344.9 256.3,345.1 257.8,345.2 259.3,345.3 260.8,345.4 262.3,345.5 263.8,345.7 265.3,345.8 266.8,345.9 268.3,346 269.8,346.1 271.3,346.2 272.8,346.3 274.3,346.4 275.8,346.4 277.3,346.5 278.8,346.6 280.3,346.7 281.8,346.8 283.3,346.9 284.8,347 286.3,347.1 287.8,347.2 289.3,347.3 290.8,347.4 292.3,347.5 293.8,347.6 295.3,347.7 296.8,347.8 298.3,347.9 299.8,348 301.3,348.1 302.8,348.2 304.3,348.3 305.8,348.4 307.3,348.5 308.8,348.7 310.3,348.8 311.8,348.9 313.3,349 314.8,349.1 316.3,349.2 317.8,349.4 319.3,349.5 320.8,349.6 322.3,349.7 323.8,349.8 325.3,349.9 326.8,350.1 328.3,350.2 329.8,350.3 331.3,350.4 332.8,350.5 334.3,350.7 335.8,350.8 337.3,350.9 338.8,351 340.3,351.1 341.8,351.2 343.3,351.4 344.8,351.5 346.3,351.6 347.8,351.8 349.3,351.9 350.8,352 352.3,352.2 353.8,352.3 355.3,352.4 356.8,352.6 358.3,352.7 359.8,352.8 361.3,352.9 362.8,353 364.3,353.2 365.8,353.3 367.3,353.4 368.8,353.5 370.3,353.6 371.8,353.6 373.3,353.7 374.8,353.8 376.3,353.9 377.8,353.9 379.3,354 380.8,354 382.3,354.1 383.8,354.1 385.3,354.2 386.8,354.2 388.3,354.3 389.8,354.3 391.3,354.3 392.8,354.4 394.3,354.4 395.8,354.5 397.3,354.5 398.8,354.5 400.3,354.6 401.8,354.6 403.3,354.7 404.8,354.7 406.3,354.7 407.9,354.8 409.4,354.8 410.9,354.9 412.4,354.9 413.9,354.9 415.4,355 416.9,355 418.4,355.1 419.9,355.1 421.4,355.2 422.9,355.2 424.4,355.3 425.9,355.3 427.4,355.3 428.9,355.4 430.4,355.4 431.9,355.5 433.4,355.5 434.9,355.6 436.4,355.6 437.9,355.7 439.4,355.7 440.9,355.7 442.4,355.8 443.9,355.8 445.4,355.9 446.9,355.9 448.4,356 449.9,356 451.4,356 452.9,356.1 454.4,356.1 455.9,356.2 457.5,356.2 459,356.2 460.5,356.3 462,356.3 463.5,356.4 465,356.4 466.5,356.5 468,356.5 469.5,356.5 471,356.6 472.5,356.6 474,356.7 475.5,356.7 477,356.7 478.5,356.8 480,356.8 481.5,356.9 483,356.9 484.5,356.9 486,357 487.5,357 489,357.1 490.5,357.1 492,357.1 493.5,357.2 495,357.2 496.5,357.3 498,357.3 499.5,357.3 501,357.4 502.5,357.4 504,357.5 505.6,357.5 507.1,357.5 508.6,357.6 510.1,357.6 511.6,357.7 513.1,357.7 514.6,357.7 516.1,357.8 517.6,357.8 519.1,357.9 520.6,357.9 522.1,357.9 523.6,358 525.1,358 526.6,358.1 528.1,358.1 529.6,358.2 531.1,358.2 532.6,358.2 534.1,358.3 535.6,358.3 537.1,358.4 538.6,358.4 540.1,358.4 541.6,358.5 543.1,358.5 544.6,358.6 546.1,358.6 547.6,358.7 549.1,358.7 550.6,358.7 552.1,358.8 553.6,358.8 555.2,358.9 556.7,358.9 558.2,358.9 559.7,359 561.2,359 562.7,359.1 564.2,359.1 565.7,359.1 567.2,359.2 568.7,359.2 570.2,359.3 571.7,359.3 573.2,359.3 574.7,359.4 576.2,359.4 577.7,359.4 579.2,359.5 580.7,359.5 582.2,359.6 583.7,359.6 585.2,359.6 586.7,359.7 588.2,359.7 589.7,359.7 591.2,359.8 592.7,359.8 594.2,359.8 595.7,359.9 597.2,359.9 598.7,359.9 600.2,360 601.7,360 603.3,360 604.8,360.1 606.3,360.1 607.8,360.1 609.3,360.2 610.8,360.2 612.3,360.2 613.8,360.3 615.3,360.3 616.8,360.3 618.3,360.4 619.8,360.4 621.3,360.4 622.8,360.4 624.3,360.5 625.8,360.5 627.3,360.5 628.8,360.6 630.3,360.6 631.8,360.6 633.3,360.7 634.8,360.7 636.3,360.7 637.8,360.8 639.3,360.8 640.8,360.8 642.3,360.9 643.8,360.9 645.3,360.9 646.8,361 648.4,361 649.9,361 651.4,361.1 652.9,361.1 654.4,361.1 655.9,361.2 657.4,361.2 658.9,361.2 660.4,361.3 661.9,361.3 663.4,361.3 664.9,361.4 666.4,361.4 667.9,361.4 669.4,361.5 670.9,361.5 672.4,361.5 673.9,361.5 675.4,361.6 676.9,361.6 678.4,361.6 679.9,361.7 681.4,361.7 682.9,361.7 684.4,361.8 685.9,361.8 687.4,361.8 688.9,361.9 690.4,361.9 691.9,361.9 693.4,362 695,362 696.5,362 698,362.1 699.5,362.1 701,362.1 702.5,362.2 704,362.2 705.5,362.2 707,362.3 708.5,362.3 710,362.3 711.5,362.4 713,362.4 714.5,362.4 716,362.5 717.5,362.5" fill="none" stroke="#70257f" stroke-width="2.05" stroke-linejoin="round" />
<polyline points="116.4,60 116.4,61.5 116.5,63 116.5,64.5 116.6,66 116.6,67.5 116.7,69 116.7,70.5 116.8,72 116.8,73.5 116.8,75 116.9,76.5 116.9,78 117,79.5 117,81 117,82.5 117.1,84.1 117.1,85.6 117.1,87.1 117.2,88.6 117.2,90.1 117.3,91.6 117.3,93.1 117.3,94.6 117.4,96.1 117.4,97.6 117.4,99.1 117.5,100.6 117.5,102.1 117.5,103.6 117.5,105.1 117.6,106.6 117.6,108.1 117.6,109.6 117.7,111.1 117.7,112.6 117.7,114.1 117.7,115.6 117.8,117.1 117.8,118.6 117.8,120.1 117.8,121.6 117.8,123.1 117.9,124.6 117.9,126.2 117.9,127.7 117.9,129.2 117.9,130.7 118,132.2 118,133.7 118,135.2 118,136.7 118,138.2 118,139.7 118.1,141.2 118.1,142.7 118.1,144.2 118.1,145.7 118.1,147.2 118.1,148.7 118.1,150.2 118.2,151.7 118.2,153.2 118.2,154.7 118.2,156.2 118.2,157.7 118.2,159.2 118.3,160.7 118.3,162.2 118.3,163.7 118.3,165.2 118.3,166.8 118.3,168.3 118.4,169.8 118.4,171.3 118.4,172.8 118.4,174.3 118.4,175.8 118.4,177.3 118.4,178.8 118.5,180.3 118.5,181.8 118.5,183.3 118.5,184.8 118.5,186.3 118.5,187.8 118.6,189.3 118.6,190.8 118.6,192.3 118.6,193.8 118.6,195.3 118.7,196.8 118.7,198.3 118.7,199.8 118.7,201.3 118.7,202.8 118.8,204.3 118.8,205.8 118.8,207.4 118.8,208.9 118.8,210.4 118.9,211.9 118.9,213.4 118.9,214.9 118.9,216.4 119,217.9 119,219.4 119,220.9 119,222.4 119.1,223.9 119.1,225.4 119.1,226.9 119.1,228.4 119.2,229.9 119.2,231.4 119.2,232.9 119.3,234.4 119.3,235.9 119.3,237.4 119.3,238.9 119.4,240.4 119.4,241.9 119.4,243.4 119.5,244.9 119.5,246.4 119.5,247.9 119.6,249.5 119.6,251 119.6,252.5 119.7,254 119.7,255.5 119.7,257 119.8,258.5 119.8,260 119.8,261.5 119.9,263 119.9,264.5 119.9,266 120,267.5 120,269 120.1,270.5 120.1,272 120.1,273.5 120.2,275 120.2,276.5 120.3,278 120.3,279.5 120.3,281 120.4,282.5 120.4,284 120.5,285.5 120.5,287 120.6,288.5 120.6,290 120.7,291.6 120.8,293.1 120.8,294.6 120.9,296.1 120.9,297.6 121,299.1 121.1,300.6 121.2,302.1 121.2,303.6 121.3,305.1 121.4,306.6 121.5,308.1 121.6,309.6 121.7,311.1 121.8,312.6 121.9,314.1 122.1,315.6 122.2,317.1 122.4,318.6 122.6,320.1 122.8,321.6 123,323 123.3,324.5 123.6,326.1 123.9,327.7 124.4,329.2 124.9,330.6 125.4,332 126.1,333.1 126.9,334.1 128.2,335 129.6,335.9 131,336.6 132.4,337.1 133.8,337.6 135.2,338.1 136.6,338.4 138.1,338.8 139.6,339.1 141.1,339.4 142.6,339.7 144.1,340 145.6,340.3 147,340.6 148.5,340.9 150,341.2 151.5,341.4 152.9,341.7 154.4,342 155.9,342.2 157.4,342.5 158.9,342.7 160.4,343 161.8,343.2 163.3,343.4 164.8,343.7 166.3,343.9 167.8,344.2 169.3,344.4 170.7,344.7 172.2,345 173.7,345.2 175.2,345.5 176.7,345.7 178.2,346 179.6,346.2 181.1,346.5 182.6,346.7 184.1,347 185.6,347.3 187,347.5 188.5,347.8 190,348 191.5,348.3 193,348.6 194.4,348.9 195.9,349.1 197.4,349.4 198.9,349.7 200.4,350 201.8,350.3 203.3,350.6 204.8,350.9 206.3,351.2 207.7,351.5 209.2,351.8 210.7,352.2 212.1,352.5 213.6,352.9 215,353.2 216.5,353.6 217.9,354 219.4,354.4 220.8,354.8 222.3,355.2 223.7,355.6 225.2,356.1 226.6,356.5 228.1,356.9 229.5,357.4 230.9,357.8 232.4,358.3 233.8,358.7 235.2,359.2 236.6,359.7 238.1,360.2 239.5,360.6 240.9,361.1 242.4,361.6 243.8,362 245.2,362.5 246.6,363 248.1,363.4 249.5,363.9 251,364.3 252.4,364.7 253.8,365.1 255.3,365.6 256.7,366 258.2,366.4 259.6,366.8 261.1,367.2 262.5,367.6 264,368 265.4,368.4 266.9,368.8 268.3,369.2 269.8,369.6 271.2,370 272.7,370.4 274.1,370.8 275.6,371.2 277,371.5 278.5,371.9 280,372.3 281.4,372.7 282.9,373.1 284.3,373.4 285.8,373.8 287.2,374.2 288.7,374.6 290.2,374.9 291.6,375.3 293.1,375.7 294.5,376 296,376.4 297.5,376.7 298.9,377.1 300.4,377.4 301.9,377.8 303.3,378.1 304.8,378.4 306.3,378.7 307.7,379 309.2,379.4 310.7,379.6 312.1,379.9 313.6,380.2 315.1,380.5 316.6,380.8 318.1,381 319.5,381.3 321,381.5 322.5,381.8 324,382.1 325.5,382.3 327,382.5 328.4,382.8 329.9,383 331.4,383.2 332.9,383.4 334.4,383.6 335.9,383.8 337.4,384 338.9,384.2 340.4,384.3 341.9,384.5 343.4,384.7 344.8,384.8 346.3,385 347.8,385.2 349.3,385.3 350.8,385.5 352.3,385.6 353.8,385.8 355.3,385.9 356.8,386.1 358.3,386.2 359.8,386.3 361.3,386.5 362.8,386.6 364.3,386.7 365.8,386.9 367.3,387 368.8,387.1 370.3,387.2 371.8,387.3 373.3,387.4 374.8,387.5 376.3,387.6 377.8,387.7 379.3,387.8 380.8,387.8 382.3,387.9 383.8,388 385.3,388.1 386.8,388.1 388.3,388.2 389.8,388.3 391.3,388.3 392.8,388.4 394.3,388.5 395.8,388.5 397.3,388.6 398.8,388.7 400.3,388.7 401.9,388.8 403.4,388.8 404.9,388.9 406.4,389 407.9,389 409.4,389.1 410.9,389.2 412.4,389.2 413.9,389.3 415.4,389.4 416.9,389.5 418.4,389.5 419.9,389.6 421.4,389.7 422.9,389.7 424.4,389.8 425.9,389.9 427.4,390 428.9,390 430.4,390.1 431.9,390.2 433.4,390.3 434.9,390.3 436.4,390.4 437.9,390.5 439.4,390.5 440.9,390.6 442.4,390.7 443.9,390.7 445.4,390.8 446.9,390.9 448.4,390.9 449.9,391 451.4,391.1 452.9,391.1 454.4,391.2 455.9,391.2 457.4,391.3 458.9,391.3 460.4,391.4 461.9,391.5 463.4,391.5 465,391.6 466.5,391.6 468,391.7 469.5,391.7 471,391.8 472.5,391.8 474,391.9 475.5,391.9 477,392 478.5,392 480,392.1 481.5,392.1 483,392.2 484.5,392.2 486,392.3 487.5,392.3 489,392.4 490.5,392.4 492,392.5 493.5,392.5 495,392.6 496.5,392.6 498,392.7 499.5,392.7 501,392.8 502.5,392.8 504,392.9 505.5,392.9 507,393 508.5,393 510,393.1 511.5,393.1 513,393.2 514.5,393.2 516.1,393.3 517.6,393.3 519.1,393.4 520.6,393.4 522.1,393.5 523.6,393.6 525.1,393.6 526.6,393.7 528.1,393.7 529.6,393.8 531.1,393.8 532.6,393.9 534.1,394 535.6,394 537.1,394.1 538.6,394.1 540.1,394.2 541.6,394.2 543.1,394.3 544.6,394.4 546.1,394.4 547.6,394.5 549.1,394.5 550.6,394.6 552.1,394.6 553.6,394.7 555.1,394.7 556.6,394.8 558.1,394.8 559.6,394.9 561.1,394.9 562.6,395 564.1,395 565.6,395.1 567.1,395.1 568.7,395.2 570.2,395.2 571.7,395.3 573.2,395.3 574.7,395.4 576.2,395.4 577.7,395.4 579.2,395.5 580.7,395.5 582.2,395.6 583.7,395.6 585.2,395.6 586.7,395.7 588.2,395.7 589.7,395.7 591.2,395.7 592.7,395.8 594.2,395.8 595.7,395.8 597.2,395.9 598.7,395.9 600.2,395.9 601.7,396 603.2,396 604.7,396 606.2,396 607.7,396.1 609.2,396.1 610.7,396.1 612.2,396.1 613.8,396.2 615.3,396.2 616.8,396.2 618.3,396.2 619.8,396.3 621.3,396.3 622.8,396.3 624.3,396.3 625.8,396.4 627.3,396.4 628.8,396.4 630.3,396.4 631.8,396.5 633.3,396.5 634.8,396.5 636.3,396.5 637.8,396.6 639.3,396.6 640.8,396.6 642.3,396.6 643.8,396.7 645.3,396.7 646.8,396.7 648.3,396.7 649.8,396.8 651.3,396.8 652.8,396.8 654.4,396.9 655.9,396.9 657.4,396.9 658.9,396.9 660.4,397 661.9,397 663.4,397 664.9,397 666.4,397.1 667.9,397.1 669.4,397.1 670.9,397.2 672.4,397.2 673.9,397.2 675.4,397.2 676.9,397.3 678.4,397.3 679.9,397.3 681.4,397.3 682.9,397.4 684.4,397.4 685.9,397.4 687.4,397.5 688.9,397.5 690.4,397.5 691.9,397.5 693.4,397.6 694.9,397.6 696.5,397.6 698,397.6 699.5,397.7 701,397.7 702.5,397.7 704,397.8 705.5,397.8 707,397.8 708.5,397.8 710,397.9 711.5,397.9 713,397.9 714.5,397.9 716,398 717.5,398" fill="none" stroke="#cf6631" stroke-width="2.05" stroke-linejoin="round" />
<polyline points="116.4,60 116.4,61.5 116.4,63 116.5,64.5 116.5,66 116.5,67.5 116.5,69 116.6,70.5 116.6,72 116.6,73.5 116.6,75 116.6,76.5 116.7,78 116.7,79.5 116.7,81.1 116.7,82.6 116.7,84.1 116.8,85.6 116.8,87.1 116.8,88.6 116.8,90.1 116.9,91.6 116.9,93.1 116.9,94.6 116.9,96.1 117,97.6 117,99.1 117,100.6 117,102.1 117,103.6 117.1,105.1 117.1,106.6 117.1,108.1 117.1,109.6 117.2,111.1 117.2,112.6 117.2,114.1 117.2,115.6 117.3,117.1 117.3,118.6 117.3,120.1 117.3,121.7 117.3,123.2 117.4,124.7 117.4,126.2 117.4,127.7 117.4,129.2 117.5,130.7 117.5,132.2 117.5,133.7 117.5,135.2 117.6,136.7 117.6,138.2 117.6,139.7 117.6,141.2 117.7,142.7 117.7,144.2 117.7,145.7 117.7,147.2 117.7,148.7 117.8,150.2 117.8,151.7 117.8,153.2 117.8,154.7 117.9,156.2 117.9,157.7 117.9,159.2 117.9,160.7 118,162.3 118,163.8 118,165.3 118,166.8 118.1,168.3 118.1,169.8 118.1,171.3 118.2,172.8 118.2,174.3 118.2,175.8 118.2,177.3 118.3,178.8 118.3,180.3 118.3,181.8 118.4,183.3 118.4,184.8 118.4,186.3 118.5,187.8 118.5,189.3 118.5,190.8 118.6,192.3 118.6,193.8 118.7,195.3 118.7,196.8 118.7,198.3 118.8,199.8 118.8,201.3 118.9,202.8 118.9,204.3 118.9,205.9 119,207.4 119,208.9 119.1,210.4 119.1,211.9 119.1,213.4 119.2,214.9 119.2,216.4 119.3,217.9 119.3,219.4 119.3,220.9 119.4,222.4 119.4,223.9 119.4,225.4 119.5,226.9 119.5,228.4 119.5,229.9 119.6,231.4 119.6,232.9 119.6,234.4 119.6,235.9 119.7,237.4 119.7,238.9 119.7,240.4 119.8,242 119.8,243.5 119.8,245 119.9,246.5 119.9,248 120,249.5 120,251 120.1,252.5 120.1,254 120.2,255.5 120.2,257 120.3,258.5 120.3,260 120.4,261.5 120.5,263 120.7,264.5 120.8,266 120.9,267.5 121.1,269 121.3,270.5 121.5,272 121.6,273.4 121.8,274.9 122,276.4 122.2,277.9 122.4,279.4 122.6,280.9 122.8,282.4 123,283.9 123.3,285.4 123.5,286.9 123.8,288.4 124.1,289.8 124.6,291.2 125.2,292.7 126,294 126.8,295.1 127.8,296.2 128.8,297.1 130,298 131.2,298.9 132.5,299.7 133.9,300.5 135.2,301.3 136.6,302.2 137.9,303 139.1,303.9 140.3,304.8 141.5,305.7 142.7,306.6 143.9,307.5 145.1,308.4 146.3,309.3 147.5,310.3 148.7,311.2 149.9,312.1 151,313.1 152.2,314 153.4,315 154.5,316 155.7,316.9 156.8,317.9 157.9,318.9 159,320 160,321 161.1,322.1 162.1,323.2 163.2,324.3 164.2,325.4 165.3,326.5 166.3,327.5 167.4,328.6 168.5,329.6 169.6,330.6 170.8,331.5 172,332.5 173.1,333.4 174.3,334.4 175.6,335.3 176.8,336.1 178,337 179.2,337.9 180.5,338.7 181.8,339.5 183,340.3 184.3,341.1 185.6,341.9 186.9,342.7 188.2,343.4 189.5,344.2 190.9,344.9 192.2,345.6 193.6,346.3 194.9,346.9 196.3,347.6 197.6,348.1 199,348.7 200.4,349.2 201.8,349.7 203.2,350.2 204.6,350.7 206.1,351.1 207.5,351.6 208.9,352 210.4,352.4 211.9,352.9 213.3,353.3 214.8,353.6 216.3,354 217.7,354.4 219.2,354.7 220.7,355.1 222.1,355.4 223.6,355.7 225.1,356 226.5,356.3 228,356.6 229.5,356.9 231,357.1 232.5,357.4 233.9,357.7 235.4,357.9 236.9,358.1 238.4,358.4 239.9,358.6 241.4,358.8 242.9,359 244.4,359.3 245.9,359.5 247.3,359.7 248.8,359.9 250.3,360 251.8,360.2 253.3,360.4 254.8,360.6 256.3,360.8 257.8,360.9 259.3,361.1 260.8,361.3 262.3,361.5 263.8,361.6 265.3,361.8 266.7,361.9 268.2,362.1 269.7,362.3 271.2,362.4 272.7,362.6 274.2,362.7 275.7,362.9 277.2,363 278.7,363.2 280.2,363.3 281.7,363.4 283.2,363.6 284.7,363.7 286.2,363.8 287.7,364 289.2,364.1 290.7,364.2 292.2,364.4 293.7,364.5 295.2,364.6 296.7,364.7 298.2,364.9 299.7,365 301.2,365.1 302.7,365.2 304.2,365.3 305.7,365.4 307.2,365.5 308.7,365.6 310.2,365.7 311.7,365.8 313.2,365.9 314.7,366 316.2,366.1 317.7,366.2 319.2,366.3 320.7,366.4 322.2,366.5 323.7,366.6 325.2,366.7 326.7,366.8 328.2,366.9 329.7,367 331.2,367.1 332.7,367.2 334.2,367.3 335.7,367.4 337.2,367.5 338.7,367.6 340.2,367.7 341.7,367.8 343.2,367.9 344.7,368 346.2,368.1 347.7,368.2 349.2,368.3 350.7,368.4 352.2,368.6 353.7,368.7 355.2,368.8 356.7,368.9 358.2,369 359.7,369.1 361.2,369.2 362.7,369.3 364.2,369.4 365.7,369.5 367.2,369.6 368.7,369.7 370.2,369.8 371.7,369.8 373.2,369.9 374.7,370 376.2,370.1 377.7,370.1 379.2,370.2 380.7,370.2 382.2,370.3 383.7,370.3 385.2,370.4 386.8,370.5 388.3,370.5 389.8,370.6 391.3,370.6 392.8,370.6 394.3,370.7 395.8,370.7 397.3,370.8 398.8,370.8 400.3,370.9 401.8,370.9 403.3,371 404.8,371 406.3,371.1 407.8,371.1 409.3,371.1 410.8,371.2 412.3,371.2 413.8,371.3 415.3,371.3 416.8,371.4 418.3,371.4 419.8,371.5 421.3,371.5 422.8,371.6 424.3,371.7 425.8,371.7 427.3,371.8 428.8,371.8 430.3,371.9 431.8,371.9 433.4,372 434.9,372 436.4,372.1 437.9,372.1 439.4,372.2 440.9,372.2 442.4,372.3 443.9,372.3 445.4,372.4 446.9,372.4 448.4,372.5 449.9,372.5 451.4,372.5 452.9,372.6 454.4,372.6 455.9,372.7 457.4,372.7 458.9,372.8 460.4,372.8 461.9,372.8 463.4,372.9 464.9,372.9 466.4,373 467.9,373 469.4,373.1 470.9,373.1 472.4,373.1 473.9,373.2 475.4,373.2 476.9,373.3 478.4,373.3 480,373.3 481.5,373.4 483,373.4 484.5,373.5 486,373.5 487.5,373.5 489,373.6 490.5,373.6 492,373.6 493.5,373.7 495,373.7 496.5,373.8 498,373.8 499.5,373.8 501,373.9 502.5,373.9 504,374 505.5,374 507,374 508.5,374.1 510,374.1 511.5,374.2 513,374.2 514.5,374.2 516,374.3 517.5,374.3 519,374.4 520.5,374.4 522,374.4 523.5,374.5 525.1,374.5 526.6,374.6 528.1,374.6 529.6,374.7 531.1,374.7 532.6,374.7 534.1,374.8 535.6,374.8 537.1,374.9 538.6,374.9 540.1,374.9 541.6,375 543.1,375 544.6,375.1 546.1,375.1 547.6,375.2 549.1,375.2 550.6,375.2 552.1,375.3 553.6,375.3 555.1,375.4 556.6,375.4 558.1,375.4 559.6,375.5 561.1,375.5 562.6,375.6 564.1,375.6 565.6,375.6 567.1,375.7 568.6,375.7 570.2,375.8 571.7,375.8 573.2,375.8 574.7,375.9 576.2,375.9 577.7,375.9 579.2,376 580.7,376 582.2,376.1 583.7,376.1 585.2,376.1 586.7,376.2 588.2,376.2 589.7,376.2 591.2,376.3 592.7,376.3 594.2,376.3 595.7,376.3 597.2,376.4 598.7,376.4 600.2,376.4 601.7,376.5 603.2,376.5 604.7,376.5 606.2,376.6 607.7,376.6 609.2,376.6 610.7,376.7 612.2,376.7 613.8,376.7 615.3,376.7 616.8,376.8 618.3,376.8 619.8,376.8 621.3,376.9 622.8,376.9 624.3,376.9 625.8,376.9 627.3,377 628.8,377 630.3,377 631.8,377.1 633.3,377.1 634.8,377.1 636.3,377.2 637.8,377.2 639.3,377.2 640.8,377.2 642.3,377.3 643.8,377.3 645.3,377.3 646.8,377.4 648.3,377.4 649.8,377.4 651.3,377.5 652.8,377.5 654.4,377.5 655.9,377.5 657.4,377.6 658.9,377.6 660.4,377.6 661.9,377.7 663.4,377.7 664.9,377.7 666.4,377.8 667.9,377.8 669.4,377.8 670.9,377.9 672.4,377.9 673.9,377.9 675.4,377.9 676.9,378 678.4,378 679.9,378 681.4,378.1 682.9,378.1 684.4,378.1 685.9,378.2 687.4,378.2 688.9,378.2 690.4,378.2 691.9,378.3 693.4,378.3 694.9,378.3 696.5,378.4 698,378.4 699.5,378.4 701,378.5 702.5,378.5 704,378.5 705.5,378.6 707,378.6 708.5,378.6 710,378.6 711.5,378.7 713,378.7 714.5,378.7 716,378.8 717.5,378.8" fill="none" stroke="#d0151c" stroke-width="2.05" stroke-linejoin="round" />
<polyline points="116.4,60 116.4,61.5 116.4,63 116.4,64.5 116.5,66 116.5,67.5 116.5,69 116.5,70.5 116.5,72 116.5,73.5 116.5,75 116.6,76.6 116.6,78.1 116.6,79.6 116.6,81.1 116.6,82.6 116.6,84.1 116.6,85.6 116.7,87.1 116.7,88.6 116.7,90.1 116.7,91.6 116.7,93.1 116.7,94.6 116.8,96.1 116.8,97.6 116.8,99.1 116.8,100.6 116.8,102.1 116.8,103.6 116.8,105.1 116.9,106.6 116.9,108.1 116.9,109.7 116.9,111.2 116.9,112.7 116.9,114.2 117,115.7 117,117.2 117,118.7 117,120.2 117,121.7 117,123.2 117.1,124.7 117.1,126.2 117.1,127.7 117.1,129.2 117.1,130.7 117.1,132.2 117.2,133.7 117.2,135.2 117.2,136.7 117.2,138.2 117.2,139.7 117.2,141.2 117.3,142.8 117.3,144.3 117.3,145.8 117.3,147.3 117.3,148.8 117.3,150.3 117.4,151.8 117.4,153.3 117.4,154.8 117.4,156.3 117.4,157.8 117.4,159.3 117.5,160.8 117.5,162.3 117.5,163.8 117.5,165.3 117.5,166.8 117.5,168.3 117.6,169.8 117.6,171.3 117.6,172.8 117.6,174.3 117.6,175.9 117.6,177.4 117.7,178.9 117.7,180.4 117.7,181.9 117.7,183.4 117.7,184.9 117.7,186.4 117.7,187.9 117.8,189.4 117.8,190.9 117.8,192.4 117.8,193.9 117.8,195.4 117.9,196.9 117.9,198.4 117.9,199.9 117.9,201.4 117.9,202.9 118,204.4 118,205.9 118,207.5 118,209 118,210.5 118.1,212 118.1,213.5 118.1,215 118.1,216.5 118.2,218 118.2,219.5 118.2,221 118.2,222.5 118.3,224 118.3,225.5 118.3,227 118.3,228.5 118.4,230 118.4,231.5 118.4,233 118.5,234.5 118.5,236 118.5,237.5 118.5,239 118.6,240.5 118.6,242.1 118.6,243.6 118.7,245.1 118.7,246.6 118.7,248.1 118.8,249.6 118.8,251.1 118.8,252.6 118.9,254.1 118.9,255.6 118.9,257.1 119,258.6 119,260.1 119,261.6 119.1,263.1 119.1,264.6 119.1,266.1 119.2,267.6 119.2,269.1 119.3,270.6 119.3,272.1 119.3,273.7 119.4,275.2 119.4,276.7 119.5,278.2 119.5,279.7 119.6,281.2 119.6,282.7 119.7,284.2 119.7,285.7 119.8,287.2 119.8,288.7 119.9,290.2 120,291.7 120,293.2 120.1,294.7 120.2,296.2 120.3,297.7 120.4,299.2 120.4,300.7 120.5,302.2 120.7,303.7 120.8,305.2 120.9,306.8 121.1,308.3 121.3,309.8 121.5,311.2 121.8,312.7 122,314.2 122.4,315.6 122.9,317.2 123.5,318.6 124.2,319.9 125,321 125.8,321.9 126.8,322.8 127.9,323.7 129.1,324.5 130.4,325.2 131.8,325.9 133.2,326.6 134.7,327.2 136.2,327.9 137.7,328.5 139.2,329 140.8,329.6 142.3,330.2 143.7,330.7 145.2,331.3 146.6,331.8 148,332.3 149.4,332.8 150.8,333.3 152.2,333.8 153.6,334.3 155.1,334.7 156.5,335.1 158,335.6 159.4,336 160.9,336.4 162.3,336.9 163.8,337.3 165.2,337.8 166.6,338.2 168.1,338.7 169.5,339.2 170.9,339.7 172.3,340.2 173.8,340.7 175.2,341.2 176.6,341.7 178,342.2 179.4,342.7 180.8,343.2 182.2,343.8 183.6,344.3 185,344.8 186.4,345.4 187.8,345.9 189.2,346.5 190.6,347.1 192,347.6 193.4,348.2 194.8,348.8 196.2,349.4 197.6,350 199,350.6 200.3,351.2 201.7,351.8 203.1,352.4 204.5,353 205.8,353.7 207.2,354.3 208.5,355 209.9,355.6 211.3,356.3 212.6,356.9 214,357.6 215.3,358.2 216.7,358.9 218.1,359.5 219.4,360.1 220.8,360.8 222.2,361.3 223.6,361.9 224.9,362.5 226.3,363 227.7,363.6 229.2,364.1 230.6,364.6 232,365.2 233.4,365.7 234.8,366.2 236.2,366.7 237.6,367.2 239.1,367.7 240.5,368.2 241.9,368.7 243.4,369.1 244.8,369.6 246.3,370 247.7,370.4 249.2,370.8 250.6,371.2 252.1,371.5 253.5,371.9 255,372.2 256.4,372.5 257.9,372.8 259.4,373.2 260.9,373.5 262.3,373.7 263.8,374 265.3,374.3 266.8,374.6 268.3,374.9 269.8,375.1 271.2,375.4 272.7,375.6 274.2,375.9 275.7,376.1 277.2,376.4 278.7,376.6 280.2,376.8 281.6,377.1 283.1,377.3 284.6,377.5 286.1,377.7 287.6,377.9 289.1,378.2 290.6,378.4 292.1,378.6 293.6,378.8 295.1,379 296.5,379.2 298,379.4 299.5,379.6 301,379.7 302.5,379.9 304,380.1 305.5,380.3 307,380.4 308.5,380.6 310,380.8 311.5,380.9 313,381 314.5,381.2 316,381.3 317.5,381.5 319,381.6 320.5,381.7 322,381.9 323.5,382 325,382.1 326.5,382.3 328,382.4 329.5,382.5 331,382.7 332.5,382.8 334,382.9 335.5,383 337,383.1 338.5,383.3 340,383.4 341.5,383.5 343,383.6 344.5,383.7 346,383.8 347.5,383.9 349,384 350.5,384.1 352,384.2 353.5,384.3 355,384.4 356.5,384.5 358,384.6 359.5,384.7 361,384.8 362.5,384.9 364,385 365.5,385 367,385.1 368.5,385.2 370,385.3 371.5,385.3 373,385.4 374.5,385.5 376,385.5 377.5,385.6 379,385.7 380.5,385.7 382,385.8 383.5,385.8 385,385.9 386.5,385.9 388.1,386 389.6,386 391.1,386.1 392.6,386.1 394.1,386.2 395.6,386.2 397.1,386.3 398.6,386.3 400.1,386.4 401.6,386.4 403.1,386.5 404.6,386.5 406.1,386.5 407.6,386.6 409.1,386.6 410.6,386.7 412.1,386.7 413.6,386.8 415.1,386.8 416.6,386.9 418.1,386.9 419.6,387 421.1,387 422.6,387.1 424.1,387.2 425.7,387.2 427.2,387.3 428.7,387.3 430.2,387.4 431.7,387.4 433.2,387.5 434.7,387.5 436.2,387.6 437.7,387.6 439.2,387.7 440.7,387.7 442.2,387.8 443.7,387.8 445.2,387.9 446.7,387.9 448.2,387.9 449.7,388 451.2,388 452.7,388.1 454.2,388.1 455.7,388.2 457.2,388.2 458.7,388.2 460.2,388.3 461.7,388.3 463.3,388.3 464.8,388.4 466.3,388.4 467.8,388.5 469.3,388.5 470.8,388.5 472.3,388.6 473.8,388.6 475.3,388.6 476.8,388.7 478.3,388.7 479.8,388.7 481.3,388.8 482.8,388.8 484.3,388.8 485.8,388.9 487.3,388.9 488.8,388.9 490.3,389 491.8,389 493.3,389 494.8,389.1 496.3,389.1 497.9,389.1 499.4,389.2 500.9,389.2 502.4,389.2 503.9,389.3 505.4,389.3 506.9,389.3 508.4,389.4 509.9,389.4 511.4,389.4 512.9,389.5 514.4,389.5 515.9,389.5 517.4,389.6 518.9,389.6 520.4,389.6 521.9,389.7 523.4,389.7 524.9,389.7 526.4,389.8 527.9,389.8 529.4,389.8 530.9,389.9 532.5,389.9 534,390 535.5,390 537,390 538.5,390.1 540,390.1 541.5,390.1 543,390.2 544.5,390.2 546,390.3 547.5,390.3 549,390.3 550.5,390.4 552,390.4 553.5,390.4 555,390.5 556.5,390.5 558,390.5 559.5,390.6 561,390.6 562.5,390.6 564,390.7 565.5,390.7 567,390.7 568.6,390.8 570.1,390.8 571.6,390.8 573.1,390.9 574.6,390.9 576.1,390.9 577.6,391 579.1,391 580.6,391 582.1,391 583.6,391.1 585.1,391.1 586.6,391.1 588.1,391.1 589.6,391.2 591.1,391.2 592.6,391.2 594.1,391.2 595.6,391.3 597.1,391.3 598.6,391.3 600.1,391.3 601.7,391.3 603.2,391.4 604.7,391.4 606.2,391.4 607.7,391.4 609.2,391.5 610.7,391.5 612.2,391.5 613.7,391.5 615.2,391.5 616.7,391.6 618.2,391.6 619.7,391.6 621.2,391.6 622.7,391.6 624.2,391.7 625.7,391.7 627.2,391.7 628.7,391.7 630.2,391.7 631.7,391.8 633.2,391.8 634.8,391.8 636.3,391.8 637.8,391.8 639.3,391.9 640.8,391.9 642.3,391.9 643.8,391.9 645.3,392 646.8,392 648.3,392 649.8,392 651.3,392 652.8,392.1 654.3,392.1 655.8,392.1 657.3,392.1 658.8,392.1 660.3,392.2 661.8,392.2 663.3,392.2 664.8,392.2 666.3,392.3 667.9,392.3 669.4,392.3 670.9,392.3 672.4,392.3 673.9,392.4 675.4,392.4 676.9,392.4 678.4,392.4 679.9,392.5 681.4,392.5 682.9,392.5 684.4,392.5 685.9,392.5 687.4,392.6 688.9,392.6 690.4,392.6 691.9,392.6 693.4,392.6 694.9,392.7 696.4,392.7 697.9,392.7 699.4,392.7 701,392.8 702.5,392.8 704,392.8 705.5,392.8 707,392.8 708.5,392.9 710,392.9 711.5,392.9 713,392.9 714.5,393 716,393 717.5,393" fill="none" stroke="#1b2472" stroke-width="2.05" stroke-linejoin="round" />
<text x="105.3" y="48.8" font-size="37" text-anchor="end" class="b">-3</text>
<text x="104.5" y="184.5" font-size="37" text-anchor="end" class="b">-3.1</text>
<text x="106.2" y="317.5" font-size="37" text-anchor="end" class="b">-3.2</text>
<text x="105.8" y="450.3" font-size="37" text-anchor="end" class="b">-3.3</text>
<text x="182" y="474.3" font-size="37" text-anchor="middle" class="b">50</text>
<text x="323.5" y="476" font-size="37" text-anchor="middle" class="b">150</text>
<text x="461" y="477.5" font-size="37" text-anchor="middle" class="b">250</text>
<text x="592" y="474.5" font-size="37" text-anchor="middle" class="b">350</text>
<text x="717" y="473" font-size="37" text-anchor="middle" class="b">450</text>
<text x="417.5" y="522.5" font-size="37.5" text-anchor="middle" >Time (ps)</text>
<text x="0" y="0" transform="translate(37.5 236) rotate(-90)" font-size="37.5" text-anchor="middle" >Potential Energy (eV/atom)</text>
<text x="153" y="111" font-size="38" class="b">(a)</text>
<line x1="299.3" y1="186" x2="317" y2="186" stroke="#68b7d6" stroke-width="2.3" />
<text x="318.5" y="200" font-size="37" style="word-spacing:-4.5px" class="b">750 K</text>
<line x1="300.3" y1="247" x2="318" y2="247" stroke="#050505" stroke-width="2.3" />
<text x="318.5" y="261" font-size="37" style="word-spacing:-4.5px" class="b">700 K</text>
<line x1="300.3" y1="282.5" x2="318" y2="282.5" stroke="#e2b237" stroke-width="2.3" />
<text x="319" y="296" font-size="37" style="word-spacing:-3px" class="b">650 K</text>
<line x1="300.3" y1="319" x2="318" y2="319" stroke="#70257f" stroke-width="2.3" />
<text x="320" y="331" font-size="37" class="b">600K</text>
<line x1="119.8" y1="379" x2="137.5" y2="379" stroke="#d0151c" stroke-width="2.3" />
<text x="139" y="392" font-size="37" class="b">475K</text>
<line x1="119.8" y1="414" x2="137.5" y2="414" stroke="#1b2472" stroke-width="2.3" />
<text x="139" y="427.5" font-size="37" style="word-spacing:0.5px" class="b">350 K</text>
<line x1="543.3" y1="278" x2="561" y2="278" stroke="#176d16" stroke-width="2.3" />
<text x="562.5" y="292" font-size="37" style="word-spacing:-5.5px" class="b">725 K</text>
<line x1="604.3" y1="419.5" x2="622" y2="419.5" stroke="#cf6631" stroke-width="2.3" />
<text x="624" y="432.5" font-size="37" class="b">300K</text>
<rect x="925" y="4.5" width="582" height="426.8" fill="none" stroke="#939393" stroke-width="1.7"/>
<path d="M1008.8 431.3v-5M1008.8 4.5v5M1099.5 431.3v-5M1099.5 4.5v5M1190.2 431.3v-5M1190.2 4.5v5M1280.9 431.3v-5M1280.9 4.5v5M1371.6 431.3v-5M1371.6 4.5v5M1462.3 431.3v-5M1462.3 4.5v5M925 51.5h5M1507 51.5h-5M925 130.5h5M1507 130.5h-5M925 210h5M1507 210h-5M925 288.8h5M1507 288.8h-5M925 368.3h5M1507 368.3h-5" fill="none" stroke="#939393" stroke-width="1.7"/>
<polyline points="930.9,3.6 933.7,4.7 936.5,5.8 939.4,6.9 942.2,8.1 945,9.2 947.8,10.3 950.6,11.4 953.5,12.5 956.3,13.7 959.1,14.8 961.9,15.9 964.7,17 967.5,18.1 970.4,19.3 973.2,20.4 976,21.5 978.8,22.6 981.6,23.8 984.4,24.9 987.3,26 990.1,27.1 992.9,28.3 995.7,29.4 998.5,30.5 1001.3,31.6 1004.2,32.8 1007,33.9 1009.8,35 1012.6,36.2 1015.4,37.3 1018.2,38.4 1021,39.5 1023.9,40.7 1026.7,41.8 1029.5,42.9 1032.3,44.1 1035.1,45.2 1037.9,46.3 1040.7,47.5 1043.5,48.6 1046.4,49.8 1049.2,50.9 1052,52 1054.8,53.2 1057.6,54.3 1060.4,55.5 1063.2,56.6 1066,57.7 1068.8,58.9 1071.6,60 1074.5,61.2 1077.3,62.3 1080.1,63.4 1082.9,64.6 1085.7,65.7 1088.5,66.9 1091.3,68 1094.1,69.2 1096.9,70.3 1099.7,71.4 1102.5,72.6 1105.4,73.7 1108.2,74.9 1111,76 1113.8,77.1 1116.6,78.3 1119.4,79.4 1122.2,80.6 1125,81.7 1127.8,82.8 1130.7,84 1133.5,85.1 1136.3,86.2 1139.1,87.3 1141.9,88.5 1144.7,89.6 1147.5,90.7 1150.4,91.9 1153.2,93 1156,94.1 1158.8,95.3 1161.6,96.4 1164.4,97.5 1167.2,98.7 1170.1,99.8 1172.9,100.9 1175.7,102.1 1178.5,103.2 1181.3,104.3 1184.1,105.5 1186.9,106.6 1189.7,107.8 1192.5,108.9 1195.3,110.1 1198.1,111.2 1200.9,112.4 1203.7,113.5 1206.5,114.7 1209.4,115.9 1212.2,117 1215,118.2 1217.8,119.3 1220.6,120.5 1223.4,121.7 1226.2,122.8 1229,124 1231.8,125.2 1234.6,126.3 1237.4,127.5 1240.2,128.7 1242.9,129.9 1245.7,131 1248.5,132.2 1251.3,133.4 1254.1,134.6 1256.9,135.7 1259.7,136.9 1262.5,138.1 1265.3,139.3 1268.1,140.5 1270.9,141.7 1273.7,142.9 1276.5,144 1279.3,145.2 1282,146.4 1284.8,147.6 1287.6,148.8 1290.4,150 1293.2,151.2 1296,152.4 1298.8,153.6 1301.5,154.8 1304.3,156 1307.1,157.2 1309.9,158.5 1312.7,159.7 1315.4,160.9 1318.2,162.1 1321,163.3 1323.8,164.5 1326.5,165.7 1329.3,167 1332.1,168.2 1334.9,169.4 1337.6,170.6 1340.4,171.9 1343.2,173.1 1346,174.3 1348.7,175.6 1351.5,176.8 1354.3,178 1357,179.3 1359.8,180.5 1362.6,181.7 1365.3,183 1368.1,184.2 1370.9,185.5 1373.6,186.7 1376.4,188 1379.2,189.2 1381.9,190.5 1384.7,191.7 1387.5,193 1390.2,194.2 1393,195.5 1395.7,196.7 1398.5,198 1399.1,199.1 1399.6,200.2 1400.1,201.3 1400.4,202.5 1400.6,203.6 1400.8,204.8 1400.9,206 1401,207.2 1401.1,208.4 1401.2,209.6 1401.3,210.8 1401.4,212 1401.4,213.3 1401.5,214.5 1401.5,215.7 1401.6,216.9 1401.6,218.1 1401.7,219.3 1401.7,220.5 1401.8,221.7 1401.8,222.9 1401.8,224.1 1401.9,225.3 1401.9,226.5 1402,227.7 1402,228.9 1402,230.2 1402.1,231.4 1402.1,232.6 1402.1,233.8 1402.1,235 1402.2,236.2 1402.2,237.4 1402.2,238.6 1402.3,239.8 1402.3,241 1402.3,242.2 1402.3,243.4 1402.4,244.6 1402.4,245.8 1402.4,247.1 1402.4,248.3 1402.5,249.5 1402.5,250.7 1402.5,251.9 1402.5,253.1 1402.5,254.3 1402.6,255.5 1402.6,256.7 1402.6,257.9 1402.6,259.1 1402.6,260.3 1402.7,261.5 1402.7,262.8 1402.7,264 1402.7,265.2 1402.7,266.4 1402.8,267.6 1402.8,268.8 1402.8,270 1402.8,271.2 1402.8,272.4 1402.9,273.6 1402.9,274.8 1402.9,276 1402.9,277.2 1402.9,278.4 1403,279.7 1403,280.9 1403,282.1 1403,283.3 1403,284.5 1403,285.7 1403,286.9 1403.1,288.1 1403.1,289.3 1403.1,290.5 1403.1,291.7 1403.1,292.9 1403.1,294.1 1403.1,295.3 1403.2,296.6 1403.2,297.8 1403.2,299 1403.2,300.2 1403.2,301.4 1403.2,302.6 1403.3,303.8 1403.3,305 1403.3,306.2 1403.3,307.4 1403.3,308.6 1403.3,309.8 1403.4,311 1403.4,312.2 1403.4,313.5 1403.4,314.7 1403.4,315.9 1403.4,317.1 1403.5,318.3 1403.5,319.5 1403.5,320.7 1403.5,321.9 1403.6,323.1 1403.6,324.3 1403.6,325.6 1403.6,326.8 1403.6,328 1403.6,329.2 1403.7,330.4 1403.7,331.6 1403.7,332.9 1403.7,334.1 1403.8,335.3 1403.8,336.5 1403.8,337.7 1403.9,338.9 1404,340 1404,341.2 1404.2,342.4 1404.5,343.6 1405,344.8 1405.5,345.9 1406,346.9 1406.5,347.9 1407.2,348.9 1408,349.8 1408.9,350.7 1409.8,351.5 1410.8,352.3 1411.7,353.1 1412.6,353.9 1413.6,354.7 1414.5,355.4 1415.5,356.1 1416.5,356.8 1417.5,357.4 1418.5,358.1 1419.5,358.7 1420.6,359.4 1421.6,360 1422.7,360.6 1423.7,361.2 1424.8,361.9 1425.8,362.5 1426.8,363.1 1427.9,363.7 1428.9,364.3 1430,364.9 1431,365.5 1432.1,366.1 1433.2,366.6 1434.2,367.2 1435.3,367.8 1436.4,368.3 1437.5,368.8 1438.6,369.3 1439.7,369.8 1440.8,370.3 1441.9,370.8 1443,371.3 1444.1,371.7 1445.2,372.2 1446.3,372.6 1447.4,373.1 1448.6,373.5 1449.7,373.9 1450.8,374.4 1451.9,374.8 1453.1,375.2 1454.2,375.6 1455.4,376 1456.5,376.4 1457.7,376.8 1458.8,377.2 1459.9,377.6 1461.1,378 1462.2,378.4 1463.4,378.7 1464.5,379.1 1465.7,379.5 1466.8,379.9 1468,380.3 1469.1,380.7 1470.2,381.1 1471.4,381.5 1472.5,381.9 1473.7,382.3 1474.8,382.6 1476,383 1477.1,383.4 1478.2,383.8 1479.4,384.2 1480.5,384.6 1481.7,385 1482.8,385.3 1484,385.7 1485.1,386.1 1486.3,386.5 1487.4,386.8 1488.6,387.2 1489.7,387.6 1490.9,388 1492,388.3 1493.2,388.7 1494.3,389.1 1495.5,389.4 1496.6,389.8 1497.8,390.2 1498.9,390.5 1500.1,390.9 1501.2,391.2 1502.4,391.6 1503.5,391.9 1504.7,392.3 1505.8,392.7 1507,393" fill="none" stroke="#00f000" stroke-width="2.4" stroke-linejoin="round" />
<polyline points="925.5,27.5 947.5,120 966.8,203 966.8,203 967,204.2 967.2,205.4 967.4,206.6 967.5,207.8 967.7,209 967.8,210.2 968,211.4 968,212.6 968.1,213.8 968.2,215 968.3,216.3 968.3,217.5 968.4,218.7 968.5,219.9 968.5,221.1 968.6,222.3 968.6,223.5 968.6,224.7 968.7,226 968.7,227.2 968.8,228.4 968.8,229.6 968.8,230.8 968.9,232 968.9,233.2 968.9,234.5 968.9,235.7 969,236.9 969,238.1 969,239.3 969.1,240.5 969.1,241.7 969.1,242.9 969.1,244.2 969.2,245.4 969.2,246.6 969.2,247.8 969.2,249 969.3,250.2 969.3,251.4 969.3,252.7 969.3,253.9 969.3,255.1 969.4,256.3 969.4,257.5 969.4,258.7 969.4,259.9 969.4,261.1 969.4,262.4 969.4,263.6 969.5,264.8 969.5,266 969.5,267.2 969.5,268.4 969.5,269.6 969.5,270.9 969.5,272.1 969.5,273.3 969.5,274.5 969.5,275.7 969.5,276.9 969.5,278.1 969.5,279.4 969.6,280.6 969.6,281.8 969.6,283 969.6,284.2 969.6,285.4 969.6,286.6 969.6,287.8 969.6,289.1 969.6,290.3 969.6,291.5 969.6,292.7 969.6,293.9 969.6,295.1 969.6,296.3 969.6,297.6 969.6,298.8 969.6,300 969.6,301.2 969.6,302.4 969.6,303.6 969.6,304.8 969.6,306.1 969.6,307.3 969.6,308.5 969.6,309.7 969.6,310.9 969.6,312.1 969.7,313.3 969.7,314.5 969.7,315.8 969.7,317 969.7,318.2 969.7,319.4 969.7,320.6 969.7,321.8 969.7,323 969.8,324.3 969.8,325.5 969.9,326.7 969.9,327.9 970,329.1 970,330.3 970.1,331.5 970.2,332.7 970.2,334 970.3,335.2 970.4,336.4 970.5,337.6 970.5,338.8 970.6,340 970.7,341.2 970.8,342.4 970.9,343.6 971,344.9 971.1,346.1 971.2,347.3 971.3,348.5 971.4,349.7 971.6,350.9 971.7,352.1 971.9,353.3 972.1,354.5 972.2,355.7 972.4,356.9 972.6,358.1 972.8,359.3 973,360.5 973.3,361.7 973.5,362.9 973.8,364 974,365.2 974.3,366.4 974.6,367.6 974.9,368.8 975.2,369.9 975.5,371.1 975.9,372.3 976.2,373.5 976.5,374.6 976.8,375.8 977.2,377 977.5,378.1 977.8,379.3 978.1,380.5 978.5,381.7 978.8,382.8 979.1,384 979.4,385.2 979.8,386.3 980.1,387.5 980.5,388.7 980.8,389.8 981.2,391 981.5,392.1 981.9,393.3 982.2,394.5 982.6,395.6 983,396.8 983.3,397.9 983.7,399.1 984.1,400.2 984.4,401.4 984.8,402.5 985.2,403.7 985.6,404.8 986,406" fill="none" stroke="#ee0000" stroke-width="3" stroke-linejoin="round" />
<polyline points="986,406 987.5,406.1 989,406.3 990.5,406.4 992.1,406.5 993.6,406.6 995.1,406.7 996.6,406.9 998.1,407 999.6,407.1 1001.1,407.2 1002.7,407.3 1004.2,407.4 1005.7,407.6 1007.2,407.7 1008.7,407.8 1010.2,407.9 1011.7,408 1013.3,408.1 1014.8,408.2 1016.3,408.3 1017.8,408.4 1019.3,408.5 1020.8,408.5 1022.4,408.6 1023.9,408.7 1025.4,408.8 1026.9,408.9 1028.4,409 1029.9,409.1 1031.4,409.2 1033,409.2 1034.5,409.3 1036,409.4 1037.5,409.5 1039,409.6 1040.5,409.6 1042.1,409.7 1043.6,409.8 1045.1,409.8 1046.6,409.9 1048.1,410 1049.6,410.1 1051.2,410.1 1052.7,410.2 1054.2,410.3 1055.7,410.3 1057.2,410.4 1058.8,410.5 1060.3,410.5 1061.8,410.6 1063.3,410.6 1064.8,410.7 1066.3,410.7 1067.9,410.8 1069.4,410.9 1070.9,410.9 1072.4,411 1073.9,411 1075.4,411.1 1077,411.1 1078.5,411.2 1080,411.3 1081.5,411.3 1083,411.4 1084.5,411.4 1086.1,411.5 1087.6,411.5 1089.1,411.6 1090.6,411.6 1092.1,411.7 1093.7,411.7 1095.2,411.8 1096.7,411.8 1098.2,411.9 1099.7,411.9 1101.2,412 1102.8,412 1104.3,412 1105.8,412.1 1107.3,412.1 1108.8,412.2 1110.4,412.2 1111.9,412.3 1113.4,412.3 1114.9,412.3 1116.4,412.4 1117.9,412.4 1119.5,412.4 1121,412.5 1122.5,412.5" fill="none" stroke="#d81818" stroke-width="1.3" stroke-linejoin="round" />
<polyline points="926.5,4.5 931,331" fill="none" stroke="#ff00ff" stroke-width="3.2" stroke-linejoin="round" />
<text x="913.2" y="66.1" font-size="40" text-anchor="end" >-3.05</text>
<text x="913.2" y="145.1" font-size="40" text-anchor="end" >-3.1</text>
<text x="913.2" y="224.6" font-size="40" text-anchor="end" >-3.15</text>
<text x="913.2" y="303.4" font-size="40" text-anchor="end" >-3.2</text>
<text x="913.2" y="382.9" font-size="40" text-anchor="end" >-3.25</text>
<text x="1008.2" y="478.8" font-size="40.5" text-anchor="middle" >2000</text>
<text x="1189.7" y="478.8" font-size="40.5" text-anchor="middle" >6000</text>
<text x="1371.1" y="478.8" font-size="40.5" text-anchor="middle" >10000</text>
<text x="1262" y="516" font-size="44" text-anchor="middle" >Time (ps)</text>
<text x="0" y="0" transform="translate(796 244) rotate(-90)" font-size="44" text-anchor="middle" >Potential Energy (eV/atom)</text>
<text x="1179" y="62" font-size="39" >(b)</text>
<line x1="1063" y1="217.5" x2="1082.5" y2="217.5" stroke="#ff00ff" stroke-width="3.4" />
<text x="1088.5" y="229.8" font-size="41.5" textLength="129.5" lengthAdjust="spacingAndGlyphs" >5.83x10</text>
<text x="1220" y="209.3" font-size="31" >12</text>
<text x="1260" y="229.8" font-size="41" >Ks</text>
<text x="1305.5" y="209.8" font-size="31" textLength="24.5" lengthAdjust="spacingAndGlyphs" >-1</text>
<line x1="1063" y1="275.3" x2="1082.5" y2="275.3" stroke="#ee0000" stroke-width="3.4" />
<text x="1088.5" y="287.5" font-size="41.5" textLength="129.5" lengthAdjust="spacingAndGlyphs" >5.83x10</text>
<text x="1220" y="267" font-size="31" >11</text>
<text x="1260" y="287.5" font-size="41" >Ks</text>
<text x="1305.5" y="267.5" font-size="31" textLength="24.5" lengthAdjust="spacingAndGlyphs" >-1</text>
<line x1="1063" y1="333" x2="1082.5" y2="333" stroke="#00f000" stroke-width="3.4" />
<text x="1088.5" y="348.6" font-size="41.5" textLength="129.5" lengthAdjust="spacingAndGlyphs" >5.83x10</text>
<text x="1220" y="328.1" font-size="31" >10</text>
<text x="1260" y="348.6" font-size="41" >Ks</text>
<text x="1305.5" y="328.6" font-size="31" textLength="24.5" lengthAdjust="spacingAndGlyphs" >-1</text>
<rect x="158" y="571.3" width="556.3" height="416.7" fill="none" stroke="#9b9b9b" stroke-width="1.5"/>
<path d="M317 988v-5M317 571.3v5M476.3 988v-5M476.3 571.3v5M635 988v-5M635 571.3v5M158 675.5h5M714.3 675.5h-5M158 780h5M714.3 780h-5M158 883.8h5M714.3 883.8h-5" fill="none" stroke="#9b9b9b" stroke-width="1.5"/>
<polyline points="158,577.6 452.5,661.2 452.5,661.2 452.9,662.3 453.3,663.5 453.4,664.6 453.8,665.8 454,667 454.8,668.1 454.7,669.3 455.3,670.5 454.4,671.7 456.1,672.9 455.5,674.1 456.1,675.3 455.9,676.5 455.9,677.7 456.4,678.9 456.7,680.1 456.3,681.3 456.4,682.5 456.9,683.7 456.3,684.9 456.1,686.1 457,687.3 456.6,688.5 456.2,689.7 456.7,690.9 457,692.1 456.7,693.3 456.6,694.5 457.4,695.7 457.8,696.9 457.3,698.1 457.2,699.3 457.7,700.5 457.9,701.7 457.5,702.9 457.9,704.1 458.1,705.3 457.6,706.5 457.4,707.7 457.9,709 457.9,710.2 458.3,711.4 457.3,712.6 457.6,713.8 457.5,715 457.2,716.2 458,717.4 458.2,718.6 457.7,719.8 458.7,721 458.4,722.2 458.4,723.4 458.3,724.6 458.6,725.8 457.6,727 458.5,728.2 458.5,729.4 457.4,730.6 458.4,731.8 458.2,733.1 458.6,734.3 458.1,735.5 458.3,736.7 458.5,737.9 458,739.1 458.7,740.3 458.4,741.5 458.6,742.7 458.2,743.9 458.9,745.1 458.7,746.3 458.4,747.5 458.8,748.7 459.1,749.9 459.3,751.1 457.8,752.3 458.9,753.5 458.8,754.8 458.5,756 458.1,757.2 459.2,758.4 458,759.6 458.9,760.8 459.2,762 457.9,763.2 458.5,764.4 458.1,765.6 458.8,766.8 459.3,768 459.6,769.2 457.9,770.4 458.4,771.6 459,772.8 459.4,774 458.9,775.2 458.4,776.5 458.8,777.7 458.7,778.9 458.6,780.1 458.4,781.3 458.9,782.5 458.9,783.7 458.7,784.9 458.6,786.1 458.2,787.3 458.5,788.5 459.3,789.7 458.7,790.9 458.1,792.1 459.4,793.3 459,794.5 459.7,795.7 458.8,796.9 458.6,798.2 458.1,799.4 459.4,800.6 460,801.8 458.5,803 458.5,804.2 459.1,805.4 458.5,806.6 458.8,807.8 458.7,809 459,810.2 459.4,811.4 459,812.6 459.4,813.8 458.9,815 459.3,816.2 458.3,817.4 458.7,818.6 459.8,819.8 459.2,821 459.8,822.2 459.9,823.4 460.4,824.6 460.3,825.8 460.5,827.1 460.1,828.3 460,829.5 460.1,830.7 460.4,831.9 460.3,833.1 460.7,834.3 461.1,835.5 461.5,836.7 461.4,837.8 460.9,839 462,840.2 462.3,841.4 462.5,842.5 462.8,843.7 463.1,844.9 463.5,846.1 463.8,847.2 464.3,848.4 464.7,849.6 465.2,850.7 465.7,851.8 466.3,852.9 466.8,853.9 467.4,854.9 468,855.8 468.8,856.6 469.5,857.5 470.4,858.3 471.3,859.1 472.3,859.9 473.3,860.7 474.3,861.4 475.4,862.1 476.4,862.8 477.5,863.5 478.5,864.1 479.6,864.7 480.6,865.3 481.6,865.9 482.6,866.5 483.7,867 484.8,867.5 485.9,868.1 486.9,868.6 488,869.1 489.2,869.5 490.3,870 491.4,870.5 492.5,870.9 493.7,871.4 494.8,871.8 495.9,872.3 497.1,872.7 498.2,873.1 499.4,873.5 500.5,873.9 501.7,874.3 502.8,874.7 503.9,875.1 505.1,875.5 506.2,875.9 507.4,876.3 508.5,876.7 509.6,877.1 510.8,877.5 511.9,877.8 513.1,878.2 514.2,878.6 515.3,878.9 516.5,879.3 517.6,879.7 518.8,880 519.9,880.4 521.1,880.7 522.3,881.1 523.4,881.4 524.6,881.8 525.7,882.1 526.9,882.4 528,882.8 529.2,883.1 530.4,883.4 531.5,883.8 532.7,884.1 533.9,884.4 535,884.7 536.2,885 537.4,885.4 538.5,885.7 539.7,886 540.9,886.3 542,886.6 543.2,886.9 544.4,887.2 545.5,887.5 546.7,887.8 547.9,888.2 549,888.5 550.2,888.8 551.4,889.1 552.5,889.4 553.7,889.7 554.9,890 556,890.3 557.2,890.6 558.4,890.9 559.5,891.1 560.7,891.4 561.9,891.7 563,892 564.2,892.3 565.4,892.6 566.6,892.8 567.7,893.1 568.9,893.4 570.1,893.6 571.3,893.9 572.4,894.2 573.6,894.5 574.8,894.7 576,895 577.1,895.3 578.3,895.5 579.5,895.8 580.7,896.1 581.8,896.3 583,896.6 584.2,896.8 585.4,897.1 586.6,897.4 587.7,897.6 588.9,897.9 590.1,898.2 591.3,898.5 592.4,898.7 593.6,899 594.8,899.3 595.9,899.6 597.1,899.8 598.3,900.1 599.5,900.4 600.6,900.7 601.8,900.9 603,901.2 604.2,901.5 605.3,901.8 606.5,902.1 607.7,902.3 608.9,902.6 610,902.9 611.2,903.2 612.4,903.5 613.5,903.7 614.7,904 615.9,904.3 617.1,904.6 618.2,904.8 619.4,905.1 620.6,905.4 621.8,905.6 622.9,905.9 624.1,906.2 625.3,906.5 626.5,906.7 627.6,907 628.8,907.2 630,907.5 631.2,907.8 632.3,908 633.5,908.3 634.7,908.5 635.9,908.8 637.1,909 638.2,909.3 639.4,909.5 640.6,909.8 641.8,910 643,910.3 644.1,910.5 645.3,910.7 646.5,911 647.7,911.2 648.9,911.5 650,911.7 651.2,911.9 652.4,912.2 653.6,912.4 654.8,912.7 656,912.9 657.1,913.1 658.3,913.4 659.5,913.6 660.7,913.8 661.9,914.1 663,914.3 664.2,914.6 665.4,914.8 666.6,915 667.8,915.3 669,915.5 670.1,915.8 671.3,916 672.5,916.2 673.7,916.5 674.9,916.7 676,917 677.2,917.2 678.4,917.5 679.6,917.7 680.8,918 681.9,918.2 683.1,918.4 684.3,918.7 685.5,918.9 686.7,919.2 687.8,919.4 689,919.7 690.2,919.9 691.4,920.1 692.6,920.4 693.7,920.6 694.9,920.9 696.1,921.1 697.3,921.4 698.5,921.6 699.7,921.8 700.8,922.1 702,922.3 703.2,922.6 704.4,922.8 705.6,923.1 706.7,923.3 707.9,923.5 709.1,923.8 710.3,924 711.5,924.3 712.6,924.5 713.8,924.8 715,925" fill="none" stroke="#00ee00" stroke-width="3.2" stroke-linejoin="round" />
<polyline points="158,577.4 475,667.3 475,667.3 476.7,667.6 477.7,668 478.8,668.3 480.4,668.7 480.2,669.1 481.6,669.5 482.4,669.9 484.1,670.3 485.8,670.7 486.4,671.2 487.8,671.6 487.7,672.1 489.8,672.5 490.4,673 492.9,673.5 493.5,674.1 494.6,674.6 495.2,675.1 496.6,675.7 497.7,676.2 498.3,676.8 499.3,677.4 500.6,677.9 501.4,678.5 502.5,679.1 503.7,679.7 504.5,680.4 506.3,681 506.1,681.7 508.3,682.4 508.5,683.1 509.5,683.8 510,684.5 511.5,685.3 512.4,686.1 513.5,687 514,687.8 515.2,688.7 516.9,689.6 517,690.5 517.3,691.5 518.8,692.5 518.9,693.4 519.9,694.4 520.5,695.4 520.6,696.4 520.3,697.5 521.6,698.5 522.6,699.6 522.6,700.7 523.5,701.8 524.2,703 523.9,704.1 525.2,705.3 525.8,706.4 525.9,707.6 526.3,708.8 526.6,710 527.6,711.1 526.9,712.3 527.1,713.5 527.7,714.6 527.3,715.8 527.2,717 527.9,718.1 528.8,719.3 529.1,720.5 528.3,721.6 528.4,722.8 529.5,724 529.8,725.2 530.1,726.4 530.7,727.6 531.2,728.8 530.9,729.9 531.3,731.1 530.7,732.3 530.8,733.5 531.7,734.7 532.1,735.9 532.4,737.1 532.5,738.3 532.8,739.5 533,740.7 531.9,741.9 532.6,743.1 533.4,744.2 533.6,745.4 532.7,746.6 534.3,747.8 533.6,749 533.9,750.2 534.3,751.4 534.7,752.6 533.8,753.8 535.1,755 534.8,756.2 534.6,757.4 535,758.6 534.2,759.8 535.1,761 535.7,762.2 535.4,763.4 535.8,764.6 536,765.8 536.3,767 537,768.2 536.6,769.3 536.7,770.5 537.3,771.7 538.2,772.9 537.2,774.1 537.8,775.3 536.9,776.5 538.6,777.7 538.4,778.9 538.9,780.1 538.4,781.3 538.1,782.5 539.3,783.7 539.4,784.9 538.8,786 538.7,787.2 539.9,788.4 539.8,789.6 541.5,790.8 540.1,792 540.4,793.1 540.8,794.3 540.3,795.5 541,796.7 542.5,797.8 541.9,799 542,800.2 542,801.4 543.2,802.5 543.5,803.7 543.7,804.9 543.7,806 544.3,807.2 544.7,808.4 544.5,809.5 545.5,810.7 544.5,811.8 545.3,813 546.1,814.1 546.6,815.3 546.5,816.4 547.6,817.6 548.4,818.7 548.5,819.8 548.8,821 549.5,822.1 549.8,823.2 549.4,824.4 550.4,825.5 551.6,826.6 550.9,827.7 552,828.8 552.3,829.9 552.6,830.9 553.1,832 554.1,833.1 554.7,834.2 555.3,835.2 555.3,836.3 556.4,837.3 557.2,838.4 558,839.4 558.6,840.4 559.3,841.3 560.1,842.3 560.7,843.2 561.2,844.2 562.1,845.1 562.8,846 563.4,846.9 564.4,847.8 565.7,848.6 566.3,849.5 567.1,850.3 568.2,851.1 569.2,851.8 570.1,852.5 571,853.2 572,853.9 573,854.6 574,855.3 575,855.9 576,856.6 577.1,857.2 578.1,857.8 579.2,858.4 580.3,859 581.4,859.5 582.4,860.1 583.5,860.6 584.6,861.2 585.7,861.7 586.8,862.2 587.9,862.7 589,863.2 590.1,863.6 591.2,864.1 592.3,864.6 593.4,865 594.5,865.5 595.6,865.9 596.7,866.4 597.9,866.8 599,867.2 600.1,867.6 601.2,868.1 602.4,868.5 603.5,868.9 604.7,869.3 605.8,869.7 606.9,870.1 608.1,870.5 609.2,870.9 610.4,871.2 611.5,871.6 612.7,872 613.8,872.4 615,872.7 616.2,873.1 617.3,873.5 618.5,873.9 619.6,874.2 620.8,874.6 621.9,874.9 623.1,875.3 624.2,875.7 625.4,876 626.6,876.4 627.7,876.8 628.9,877.1 630,877.5 631.1,877.9 632.3,878.2 633.4,878.6 634.6,879 635.7,879.3 636.9,879.7 638.1,880 639.2,880.4 640.4,880.7 641.5,881.1 642.7,881.4 643.8,881.8 645,882.1 646.1,882.5 647.3,882.8 648.4,883.2 649.6,883.5 650.8,883.9 651.9,884.2 653.1,884.5 654.2,884.9 655.4,885.2 656.6,885.6 657.7,885.9 658.9,886.2 660,886.5 661.2,886.9 662.4,887.2 663.5,887.5 664.7,887.9 665.9,888.2 667,888.5 668.2,888.8 669.3,889.1 670.5,889.5 671.7,889.8 672.8,890.1 674,890.4 675.2,890.7 676.3,891 677.5,891.3 678.7,891.6 679.8,892 681,892.3 682.2,892.6 683.3,892.9 684.5,893.2 685.7,893.5 686.8,893.8 688,894.1 689.2,894.4 690.3,894.7 691.5,894.9 692.7,895.2 693.9,895.5 695,895.8 696.2,896.1 697.4,896.4 698.5,896.7 699.7,897 700.9,897.2 702.1,897.5 703.2,897.8 704.4,898.1 705.6,898.3 706.8,898.6 707.9,898.9 709.1,899.2 710.3,899.4 711.5,899.7 712.6,900 713.8,900.2 715,900.5" fill="none" stroke="#d80f0f" stroke-width="2.9" stroke-linejoin="round" />
<polyline points="158,577 452.5,660.5 454.4,661.1 456.4,661.6 458.3,662.2 460.3,662.7 462.2,663.3 464.2,663.9 466.1,664.4 468.1,665 470,665.5 472,666.1 473.9,666.7 475.9,667.2 477.8,667.8 479.7,668.3 481.7,668.9 483.6,669.5 485.6,670 487.5,670.6 489.5,671.1 491.4,671.7 493.4,672.3 495.3,672.8 497.3,673.4 499.2,673.9 501.1,674.5 503.1,675.1 505,675.6 507,676.2 508.9,676.7 510.9,677.3 512.8,677.9 514.8,678.4 516.7,679 518.7,679.5 520.6,680.1 522.6,680.7 524.5,681.2 526.4,681.8 528.4,682.3 530.3,682.9 532.3,683.5 534.2,684 536.2,684.6 538.1,685.1 540.1,685.7 542,686.2 544,686.8 545.9,687.3 547.9,687.9 549.8,688.4 551.8,689 553.7,689.6 555.6,690.2 557.6,690.8 559.5,691.5 561.4,692.1 563.3,692.8 565.2,693.5 567.1,694.2 569,694.8 570.9,695.5 572.8,696.2 574.8,696.8 576.7,697.5 578.6,698.2 580.5,698.8 582.4,699.5 584.3,700.2 586.2,700.8 588.2,701.5 590.1,702.2 592,702.8 593.9,703.5 595.8,704.1 597.7,704.8 599.6,705.5 601.5,706.1 603.5,706.8 605.4,707.5 607.3,708.1 609.2,708.8 611.1,709.5 613,710.1 614.9,710.8 616.9,711.4 618.8,712.1 620.7,712.7 622.6,713.4 624.5,714 626.4,714.7 628.3,715.4 630.2,716.1 632.1,716.8 634,717.6 635.9,718.3 637.8,719.1 639.6,719.9 641.5,720.7 643.4,721.5 645.2,722.2 647.1,723 649,723.8 650.8,724.6 652.7,725.4 654.6,726.1 656.5,726.9 658.3,727.6 660.2,728.4 662.1,729.1 664,729.9 665.8,730.7 667.7,731.5 669.6,732.3 671.4,733.1 673.2,734 675,734.9 676.9,735.8 678.7,736.7 680.5,737.6 682.3,738.5 684.1,739.4 685.9,740.3 687.7,741.2 689.6,742.1 691.4,743 693.2,743.9 695,744.8 696.8,745.7 698.6,746.6 700.5,747.5 702.3,748.4 704.1,749.2 705.9,750.1 707.7,751 709.5,751.9 711.4,752.8 713.2,753.7 715,754.6" fill="none" stroke="#f312ea" stroke-width="3.5" stroke-linejoin="round" />
<text x="146.8" y="585.6" font-size="37.5" text-anchor="end" class="b">-3.1</text>
<text x="146.8" y="689.8" font-size="37.5" text-anchor="end" class="b">-3.15</text>
<text x="146.8" y="794.3" font-size="37.5" text-anchor="end" class="b">-3.2</text>
<text x="146.8" y="898.1" font-size="37.5" text-anchor="end" class="b">-3.25</text>
<text x="146.8" y="1002.3" font-size="37.5" text-anchor="end" class="b">-3.3</text>
<text x="158" y="1032.5" font-size="38" text-anchor="middle" class="b">900</text>
<text x="317" y="1032.5" font-size="38" text-anchor="middle" class="b">800</text>
<text x="476.3" y="1032.5" font-size="38" text-anchor="middle" class="b">700</text>
<text x="635" y="1032.5" font-size="38" text-anchor="middle" class="b">600</text>
<text x="467.5" y="1077.5" font-size="42" text-anchor="middle" >Temperature (K)</text>
<text x="0" y="0" transform="translate(32.5 788) rotate(-90)" font-size="42" text-anchor="middle" >Potential Energy (eV/atom)</text>
<text x="209" y="680" font-size="38" class="b">(c)</text>
<line x1="189.8" y1="824" x2="208" y2="824" stroke="#f312ea" stroke-width="3.2" />
<text x="213" y="838.8" font-size="38.3" class="b">5.83x10</text>
<text x="339" y="819.3" font-size="30" class="b">12</text>
<text x="378" y="838.8" font-size="38.3" class="b">Ks</text>
<text x="422" y="819.3" font-size="30" textLength="22" lengthAdjust="spacingAndGlyphs" class="b">-1</text>
<line x1="189.8" y1="878.5" x2="208" y2="878.5" stroke="#d80f0f" stroke-width="3.2" />
<text x="213" y="895.3" font-size="38.3" class="b">5.83x10</text>
<text x="339" y="875.8" font-size="30" class="b">11</text>
<text x="378" y="895.3" font-size="38.3" class="b">Ks</text>
<text x="422" y="875.8" font-size="30" textLength="22" lengthAdjust="spacingAndGlyphs" class="b">-1</text>
<line x1="189.8" y1="934" x2="208" y2="934" stroke="#00ee00" stroke-width="3.2" />
<text x="211.8" y="948.3" font-size="38.3" class="b">5.83x10</text>
<text x="337.8" y="928.8" font-size="30" class="b">10</text>
<text x="376.8" y="948.3" font-size="38.3" class="b">Ks</text>
<text x="420.8" y="928.8" font-size="30" textLength="22" lengthAdjust="spacingAndGlyphs" class="b">-1</text>
<rect x="843.3" y="569.5" width="645.5" height="408" fill="none" stroke="#8c8c8c" stroke-width="1.5"/>
<path d="M972.5 977.5v-5M972.5 569.5v5M1101.8 977.5v-5M1101.8 569.5v5M1230.5 977.5v-5M1230.5 569.5v5M1359.5 977.5v-5M1359.5 569.5v5M843.3 773.8h5M1488.8 773.8h-5" fill="none" stroke="#8c8c8c" stroke-width="1.5"/>
<polyline points="843.5,959 845,958.7 846.4,958.3 847.9,958 849.4,957.6 850.8,957.3 852.3,957 853.8,956.6 855.2,956.3 856.7,955.9 858.2,955.6 859.6,955.2 861.1,954.9 862.5,954.6 864,954.2 865.5,953.9 866.9,953.5 868.4,953.2 869.9,952.8 871.3,952.5 872.8,952.1 874.3,951.8 875.7,951.4 877.2,951.1 878.6,950.7 880.1,950.3 881.6,950 883,949.6 884.5,949.3 885.9,948.9 887.4,948.5 888.9,948.2 890.3,947.8 891.8,947.5 893.3,947.1 894.7,946.8 896.2,946.5 897.7,946.1 899.1,945.8 900.6,945.4 902.1,945.1 903.5,944.8 905,944.4 906.5,944.1 907.9,943.8 909.4,943.4 910.9,943.1 912.3,942.8 913.8,942.4 915.3,942.1 916.7,941.8 918.2,941.4 919.7,941.1 921.1,940.7 922.6,940.4 924,940 925.5,939.7 927,939.3 928.4,939 929.9,938.6 931.4,938.3 932.8,937.9 934.3,937.6 935.8,937.2 937.2,936.9 938.7,936.5 940.1,936.1 941.6,935.7 943,935.3 944.5,934.9 945.9,934.5 947.4,934.1 948.8,933.6 950.2,933.1 951.6,932.7 953.1,932.1 954.5,931.6 955.9,931.1 957.3,930.6 958.7,930.1 960.1,929.5 961.5,929 962.9,928.5 964.4,928 965.8,927.4 967.2,926.9 968.6,926.5 970,926 971.5,925.5 972.9,925.1 974.4,924.7 975.8,924.3 977.2,923.8 978.7,923.4 980.1,923 981.6,922.6 983,922.3 984.5,921.9 986,921.5 987.4,921.1 988.9,920.7 990.3,920.3 991.8,920 993.2,919.6 994.7,919.2 996.2,918.8 997.6,918.4 999.1,918 1000.5,917.6 1002,917.2 1003.4,916.8 1004.9,916.4 1006.3,916 1007.8,915.6 1009.2,915.2 1010.7,914.8 1012.1,914.4 1013.5,914 1015,913.5 1016.4,913.1 1017.9,912.7 1019.3,912.3 1020.8,911.9 1022.2,911.4 1023.7,911 1025.1,910.6 1026.5,910.1 1028,909.6 1029.4,909.2 1030.8,908.7 1032.3,908.3 1033.7,907.8 1035.1,907.3 1036.6,906.9 1038,906.4 1039.4,906 1040.9,905.6 1042.3,905.2 1043.8,904.8 1045.2,904.4 1046.7,904.1 1048.2,903.8 1049.7,903.5 1051.2,903.2 1052.7,902.9 1054.1,902.5 1055.6,902.2 1057,901.8 1058.4,901.4 1059.8,900.9 1061.2,900.3 1062.5,899.7 1063.8,899 1065.1,898.2 1066.4,897.4 1067.7,896.6 1069,895.8 1070.3,895 1071.6,894.2 1072.9,893.4 1074.2,892.6 1075.6,892 1076.9,891.3 1078.2,890.6 1079.6,889.9 1081,889.3 1082.3,888.6 1083.7,888 1085.1,887.5 1086.5,887 1087.9,886.5 1089.4,886.1 1090.8,885.7 1092.3,885.3 1093.7,884.9 1095.2,884.5 1096.7,884.1 1098.1,883.7 1099.6,883.3 1101,882.9 1102.4,882.4 1103.8,881.9 1105.2,881.3 1106.6,880.7 1107.9,880 1109.2,879.3 1110.6,878.6 1111.9,877.9 1113.2,877.2 1114.6,876.5 1115.9,875.8 1117.3,875.1 1118.6,874.4 1119.9,873.7 1121.3,873 1122.6,872.3 1124,871.7 1125.3,871 1126.6,870.3 1128,869.6 1129.3,868.9 1130.7,868.2 1132,867.5 1133.3,866.8 1134.7,866.1 1136,865.4 1137.3,864.7 1138.6,864 1139.9,863.2 1141.2,862.5 1142.6,861.8 1143.9,861 1145.2,860.3 1146.5,859.5 1147.8,858.8 1149.1,858.1 1150.4,857.3 1151.8,856.5 1153.1,855.8 1154.4,855 1155.7,854.2 1157,853.5 1158.3,852.7 1159.5,851.9 1160.8,851.1 1162.1,850.3 1163.3,849.5 1164.6,848.6 1165.8,847.8 1167.1,847 1168.3,846.1 1169.5,845.2 1170.7,844.4 1171.9,843.5 1173.1,842.5 1174.2,841.6 1175.4,840.7 1176.5,839.7 1177.7,838.7 1178.8,837.7 1179.9,836.7 1181.1,835.7 1182.2,834.7 1183.3,833.7 1184.4,832.6 1185.5,831.6 1186.6,830.6 1187.7,829.5 1188.8,828.5 1189.9,827.4 1190.9,826.4 1192,825.3 1193.1,824.3 1194.2,823.2 1195.3,822.2 1196.3,821.1 1197.4,820.1 1198.5,819 1199.6,818 1200.6,816.9 1201.7,815.8 1202.7,814.7 1203.8,813.7 1204.8,812.6 1205.9,811.5 1206.9,810.4 1208,809.3 1209,808.3 1210,807.2 1211.1,806.1 1212.1,805 1213.1,803.9 1214.2,802.8 1215.2,801.7 1216.2,800.6 1217.2,799.4 1218.2,798.3 1219.2,797.2 1220.3,796.1 1221.3,795 1222.3,793.9 1223.3,792.7 1224.3,791.6 1225.3,790.5 1226.2,789.3 1227.2,788.2 1228.2,787.1 1229.2,785.9 1230.2,784.8 1231.1,783.6 1232.1,782.5 1233,781.3 1234,780.1 1234.9,779 1235.9,777.8 1236.8,776.6 1237.7,775.4 1238.7,774.2 1239.6,773.1 1240.5,771.9 1241.4,770.7 1242.3,769.5 1243.2,768.3 1244.1,767.1 1245,765.9 1245.9,764.7 1246.9,763.5 1247.8,762.3 1248.7,761.1 1249.6,759.9 1250.5,758.7 1251.4,757.5 1252.3,756.3 1253.3,755.1 1254.2,753.9 1255.1,752.7 1256,751.5 1256.9,750.3 1257.8,749.1 1258.8,747.9 1259.7,746.7 1260.6,745.6 1261.5,744.4 1262.4,743.2 1263.4,742 1264.3,740.8 1265.2,739.6 1266.1,738.4 1267.1,737.2 1268,736 1268.9,734.8 1269.8,733.7 1270.7,732.5 1271.6,731.3 1272.6,730.1 1273.5,728.9 1274.4,727.7 1275.4,726.5 1276.3,725.3 1277.2,724.2 1278.2,723 1279.2,721.9 1280.1,720.7 1281.1,719.6 1282.1,718.5 1283.1,717.3 1284.1,716.2 1285.1,715.1 1286.1,714 1287.1,712.9 1288.2,711.8 1289.2,710.7 1290.2,709.6 1291.3,708.5 1292.3,707.4 1293.4,706.3 1294.5,705.3 1295.5,704.2 1296.6,703.1 1297.7,702.1 1298.8,701 1299.8,700 1300.9,699 1302,697.9 1303.1,696.9 1304.2,695.9 1305.3,694.9 1306.5,693.9 1307.6,692.9 1308.7,691.9 1309.9,690.9 1311,689.9 1312.2,689 1313.3,688 1314.5,687 1315.6,686.1 1316.8,685.1 1318,684.2 1319.2,683.2 1320.4,682.3 1321.5,681.4 1322.7,680.5 1323.9,679.6 1325.1,678.7 1326.4,677.8 1327.6,676.9 1328.8,676.1 1330,675.2 1331.3,674.3 1332.5,673.5 1333.7,672.6 1335,671.7 1336.2,670.9 1337.5,670.1 1338.8,669.2 1340,668.4 1341.3,667.6 1342.6,666.8 1343.9,666 1345.1,665.2 1346.4,664.5 1347.7,663.7 1349,662.9 1350.3,662.2 1351.6,661.5 1353,660.8 1354.3,660.1 1355.6,659.4 1357,658.7 1358.3,658.1 1359.7,657.4 1361.1,656.8 1362.4,656.2 1363.8,655.5 1365.2,654.9 1366.6,654.3 1367.9,653.7 1369.3,653.1 1370.7,652.4 1372,651.8 1373.4,651.2 1374.8,650.6 1376.2,650 1377.6,649.4 1378.9,648.8 1380.3,648.2 1381.7,647.6 1383.1,647 1384.5,646.4 1385.9,645.9 1387.3,645.3 1388.7,644.8 1390.1,644.2 1391.5,643.7 1392.9,643.2 1394.3,642.7 1395.8,642.3 1397.2,641.8 1398.6,641.3 1400,640.9 1401.5,640.4 1402.9,640 1404.4,639.6 1405.8,639.2 1407.3,638.8 1408.7,638.4 1410.2,638 1411.6,637.6 1413.1,637.2 1414.6,636.9 1416,636.5 1417.5,636.2" fill="none" stroke="#ff12f0" stroke-width="2.9" stroke-linejoin="round" />
<polyline points="843.5,950.8 845,940.5 846.5,946.2 848,943.5 849.5,943.1 851.1,943.1 852.6,938.7 854.1,941.9 855.6,940 857.2,946.7 858.7,941.2 860.2,939.4 861.7,939 863.3,937.7 864.8,936.4 866.3,937.2 867.9,938.6 869.4,936.6 871,938.6 872.5,935.7 874,935.7 875.6,938.4 877.1,935.8 878.7,933.2 880.2,933.4 881.8,934.5 883.3,937 884.9,931.9 886.5,931.5 888,933.8 889.6,929.4 891.1,930.2 892.7,932.3 894.3,931.3 895.8,929.9 897.4,930.8 899,923.6 900.6,930.8 902.1,926.3 903.7,924.5 905.3,928.3 906.9,928.9 908.5,926.2 910.1,924.5 911.7,926.5 913.3,926.1 914.9,928.8 916.5,927.2 918.1,925.7 919.6,927.4 921.2,924.3 922.8,922.5 924.4,925.4 926,925.1 927.6,923.2 929.2,921.7 930.8,923.6 932.4,917.6 934,924.1 935.6,923.4 937.2,918.7 938.8,922 940.4,919.6 942,923 943.6,916.9 945.2,919 946.8,922.2 948.4,922.8 950,915.6 951.6,918.8 953.2,920.2 954.8,917.9 956.3,922.2 957.9,916 959.5,918.9 961,915.5 962.6,920.3 964.2,916.8 965.7,915.7 967.3,912.4 968.8,919.1 970.4,916.6 971.9,916.2 973.5,916.5 975,914.4 976.5,911.8 978.1,910.9 979.6,910.4 981.2,914.5 982.7,908.1 984.3,909.5 985.8,909.6 987.4,910.3 988.9,910.6 990.5,906.4 992.1,904.9 993.6,908.1 995.2,910.2 996.7,908.8 998.3,907.2 999.8,905.7 1001.4,906.5 1002.9,904.9 1004.5,906.7 1006,902.8 1007.6,904.3 1009.1,903.3 1010.7,904.2 1012.2,903 1013.7,907.4 1015.3,904.7 1016.8,904.2 1018.4,896.3 1019.9,899.4 1021.5,898.4 1023,900.3 1024.6,893.9 1026.1,900.7 1027.7,900.1 1029.2,894.6 1030.8,894.8 1032.3,894.8 1033.9,896.1 1035.4,896.9 1037,899.4 1038.5,894.2 1040.1,895.7 1041.6,894 1043.1,896.8 1044.7,894.2 1046.2,895 1047.8,889.4 1049.3,890.8 1050.9,889 1052.4,893.4 1054,891.1 1055.5,888.6 1057.1,887.7 1058.6,889.1 1060.1,886.1 1061.6,885 1063,887.3 1064.5,890.8 1065.9,884.4 1067.4,883 1068.8,881 1070.2,879.8 1071.6,882.8 1073,882.6 1074.2,879.9 1075.5,879.6 1076.7,878 1077.8,876.9 1078.9,872.2 1080,873.2 1079.6,874.2 1080.7,872.1 1082.7,869.9 1084.3,867.7 1085.7,865.4 1085.8,863.1 1086.1,860.7 1086.5,858.2 1087.8,855.7 1088.8,853.2 1088.6,850.8 1088.4,848.3 1089.1,845.9 1091.2,843.5 1091,841 1090.6,838.6 1092.1,836.2 1092.2,833.7 1093.1,831.3 1093.8,828.8 1094.1,826.4 1095.2,823.9 1095.2,821.4 1095.2,818.9 1096,816.4 1096.6,813.9 1095.6,811.4 1096.7,808.9 1096.7,806.4 1097.6,804 1097.4,801.5 1098.6,799 1099.1,796.5 1099.4,794.1 1099.5,791.6 1100.3,789.1 1100.4,786.7 1100.8,784.2 1102.2,781.7 1101.9,779.3 1103.7,776.8 1103.9,774.3 1102.9,771.9 1104.7,769.4 1104.5,766.9 1105.6,764.5 1106.1,762 1105.5,759.6 1107,757.1 1107.5,754.6 1108.7,752.2 1108.1,749.7 1109.7,747.3 1109.2,744.8 1110.2,742.4 1110.5,739.9 1112.3,737.5 1112.5,735 1114.1,732.6 1113.7,730.1 1114.5,727.7 1115.2,725.3 1115.1,722.9 1116.1,720.5 1117.6,718.1 1117.3,715.6 1118.4,713.2 1119,710.8 1120.1,708.4 1120.2,706 1121,703.6 1121.9,701.2 1122.5,698.7 1122.6,696.3 1124.3,693.9 1123.7,691.5 1124.4,689 1125,686.6 1126.9,684.2 1126.8,681.7 1127.2,679.3 1127.7,676.9 1129.2,674.4 1129,672 1129.4,669.5 1131,667.1 1130.6,664.6 1131.7,662.1 1132.4,659.7 1132.8,657.2 1133.6,654.8 1134.9,652.3 1134.5,649.9 1134.7,647.4 1135.1,645 1136.6,642.6 1137.2,640.2 1138.1,637.8 1138.9,635.4 1139.7,633 1140.5,630.6 1141.3,628.2 1142.2,625.7 1143.1,623.2 1144.1,620.8 1145.2,618.5 1146.4,616.5 1147.8,614.7 1149.4,613 1151.3,611.4 1153.4,609.8 1155.7,608.4 1158.1,607.2 1160.5,606.2 1162.8,605.4 1165.1,604.8 1167.5,604.3 1169.9,603.8 1172.4,603.3 1174.9,602.9 1177.4,602.5 1180,602.2 1182.5,601.9 1185.1,601.6 1187.6,601.3 1190.1,601 1192.6,600.7 1195.1,600.5 1197.6,600.2 1200.1,599.9 1202.6,599.7 1205.1,599.5 1207.6,599.2 1210.1,599 1212.6,598.8 1215.1,598.6 1217.7,598.4 1220.2,598.2 1222.7,598.1 1225.2,597.9 1227.7,597.7 1230.2,597.6 1232.7,597.4 1235.2,597.3 1237.7,597.1 1240.3,597 1242.8,596.9 1245.3,596.7 1247.8,596.6 1250.3,596.5 1252.8,596.4 1255.3,596.3 1257.8,596.2 1260.4,596.1 1262.9,596 1265.4,596 1267.9,595.9 1270.4,595.8 1272.9,595.7 1275.4,595.6 1278,595.5 1280.5,595.4 1283,595.3 1285.5,595.2 1288,595 1290.5,594.9 1293,594.8 1295.6,594.7 1298.1,594.6 1300.6,594.5 1303.1,594.4 1305.6,594.3 1308.1,594.2 1310.6,594.1 1313.1,594.1 1315.7,594 1318.2,593.9 1320.7,593.9 1323.2,593.8 1325.7,593.8 1328.2,593.7 1330.7,593.7 1333.3,593.6 1335.8,593.6 1338.3,593.5 1340.8,593.5 1343.3,593.4 1345.8,593.4 1348.4,593.4 1350.9,593.3 1353.4,593.3 1355.9,593.2 1358.4,593.2 1360.9,593.1 1363.4,593.1 1366,593.1 1368.5,593 1371,593 1373.5,592.9 1376,592.9 1378.5,592.8 1381,592.8 1383.6,592.7 1386.1,592.7 1388.6,592.6 1391.1,592.6 1393.6,592.6 1396.1,592.5 1398.7,592.5 1401.2,592.4 1403.7,592.4 1406.2,592.3 1408.7,592.3 1411.2,592.2 1413.7,592.2 1416.3,592.1 1418.8,592.1 1421.3,592 1423.8,592" fill="none" stroke="#f20a0a" stroke-width="3.1" stroke-linejoin="round" />
<polyline points="843.5,958.4 845.1,958.7 846.6,957.1 848.2,955.4 849.8,956 851.3,954.5 852.9,956.3 854.5,958.6 856,954.4 857.6,953.7 859.2,955.7 860.7,955 862.3,954.1 863.9,951.5 865.4,953.1 867,954.2 868.6,949.5 870.1,951 871.7,947.6 873.3,948.5 874.8,946.9 876.4,949.9 878,947.3 879.5,950.2 881.1,949.5 882.6,948.4 884.2,943.1 885.8,946.9 887.3,947.5 888.9,947.5 890.5,943.6 892,945.4 893.6,944 895.2,944 896.7,947.5 898.3,943.3 899.9,944.5 901.4,946.1 903,942.6 904.6,943.3 906.2,943.4 907.7,942.9 909.3,939.9 910.9,942.3 912.4,944.6 914,938.1 915.6,942.8 917.2,940.9 918.7,938.9 920.3,944.1 921.9,941.2 923.4,936.7 925,939 926.6,939.7 928.2,937.7 929.7,939.2 931.3,937.2 932.9,938.4 934.5,939.7 936.1,934.9 937.6,936.4 939.2,934.6 940.8,935.4 942.3,932.2 943.8,933 945.3,933.3 946.8,935 948.3,934.8 949.7,928.9 951.1,929.2 952.5,931.4 954,925.2 955.5,927.8 957,928 958.5,930.3 960,928.7 961.6,926.1 963.1,925.6 964.7,925.5 966.3,928.8 967.9,924.3 969.4,924.2 971,925.1 972.5,923.7 974.1,923 975.6,920.6 977.1,922.4 978.7,921.1 980.2,924 981.8,922.5 983.3,920.6 984.9,921.7 986.5,919.2 988,921.7 989.6,919.1 991.2,920 992.7,915.7 994.3,918.7 995.9,914.1 997.4,913 999,916.2 1000.5,914.5 1002.1,916.3 1003.7,920.3 1005.2,913.4 1006.8,913.4 1008.3,914.7 1009.9,914.8 1011.4,913 1013,912.5 1014.5,913.9 1016,913 1017.6,909.3 1019.1,910.8 1020.6,910.5 1022.2,907.7 1023.7,910 1025.2,907.1 1026.7,910.3 1028.2,908.1 1029.7,907.3 1031.2,905.3 1032.7,905.7 1034.2,901.1 1035.7,902.3 1037.2,904.8 1038.7,899 1040.1,904.6 1041.6,898.5 1043.1,903.1 1044.6,899.1 1046.1,901.9 1047.5,899.9 1049,895.7 1050.5,900.9 1051.9,900.6 1053.4,896.7 1054.8,895.6 1056.3,895.2 1057.8,892.8 1059.2,896.5 1060.7,892.4 1062.2,892.8 1063.7,890.6 1065.2,890.4 1066.8,888.5 1068.3,893.4 1069.9,889.9 1071.4,891.8 1072.9,889.2 1074.4,887.1 1075.7,887.1 1077,885.7 1078.3,885.8 1079.5,883.9 1079.5,884.7 1079.6,883.2 1079.8,881.7 1079.9,880.2 1080.1,878.7 1080.2,877.2 1080.3,875.7 1080.4,874.2 1080.5,872.7 1080.5,871.2 1080.6,869.7 1080.6,868.2 1080.7,866.7 1080.7,865.2 1080.7,863.7 1080.8,862.2 1080.8,860.7 1080.8,859.2 1080.9,857.7 1080.9,856.2 1080.9,854.7 1080.9,853.1 1081,851.6 1081,850.1 1081.1,848.6 1081.1,847.1 1081.1,845.6 1081.2,844.1 1081.2,842.6 1081.3,841.1 1081.3,839.6 1081.3,838.1 1081.4,836.6 1081.4,835.1 1081.5,833.6 1081.5,832.1 1081.6,830.6 1081.6,829.1 1081.7,827.6 1081.8,826.1 1081.8,824.6 1081.9,823.1 1082,821.6 1082,820.1 1082.1,818.6 1082.2,817.1 1082.3,815.6 1082.3,814 1082.4,812.5 1082.5,811 1082.5,809.5 1082.6,808 1082.6,806.5 1082.7,805 1082.7,803.5 1082.7,802 1082.8,800.5 1082.8,799 1082.9,797.5 1082.9,796 1083,794.5 1083,793 1083,791.5 1083.1,790 1083.1,788.5 1083.1,787 1083.2,785.5 1083.2,784 1083.2,782.5 1083.3,781 1083.3,779.5 1083.3,778 1083.4,776.4 1083.4,774.9 1083.4,773.4 1083.5,771.9 1083.5,770.4 1083.6,768.9 1083.6,767.4 1083.6,765.9 1083.7,764.4 1083.7,762.9 1083.7,761.4 1083.8,759.9 1083.8,758.4 1083.9,756.9 1083.9,755.4 1083.9,753.9 1084,752.4 1084,750.9 1084.1,749.4 1084.1,747.9 1084.1,746.4 1084.2,744.9 1084.2,743.4 1084.2,741.8 1084.3,740.3 1084.3,738.8 1084.4,737.3 1084.4,735.8 1084.4,734.3 1084.5,732.8 1084.5,731.3 1084.6,729.8 1084.6,728.3 1084.6,726.8 1084.7,725.3 1084.7,723.8 1084.8,722.3 1084.8,720.8 1084.8,719.3 1084.9,717.8 1084.9,716.3 1084.9,714.8 1085,713.3 1085,711.8 1085.1,710.3 1085.1,708.8 1085.1,707.3 1085.2,705.7 1085.2,704.2 1085.2,702.7 1085.3,701.2 1085.3,699.7 1085.3,698.2 1085.4,696.7 1085.4,695.2 1085.4,693.7 1085.5,692.2 1085.5,690.7 1085.5,689.2 1085.6,687.7 1085.6,686.2 1085.6,684.7 1085.7,683.2 1085.7,681.7 1085.7,680.2 1085.8,678.7 1085.8,677.2 1085.8,675.7 1085.9,674.2 1085.9,672.7 1085.9,671.1 1085.9,669.6 1086,668.1 1086,666.6 1086,665.1 1086.1,663.6 1086.1,662.1 1086.1,660.6 1086.2,659.1 1086.2,657.6 1086.2,656.1 1086.3,654.6 1086.3,653.1 1086.3,651.6 1086.3,650.1 1086.3,648.6 1086.4,647 1086.4,645.5 1086.4,644 1086.4,642.5 1086.4,641 1086.5,639.5 1086.5,638 1086.5,636.5 1086.5,635 1086.6,633.5 1086.6,632 1086.6,630.5 1086.7,629 1086.7,627.5 1086.8,626 1086.8,624.5 1086.9,623 1086.9,621.5 1087,620 1087.1,618.5 1087.3,616.9 1087.5,615.3 1087.7,613.7 1088,612.2 1088.4,610.7 1088.8,609.3 1089.3,608.1 1089.8,606.9 1090.8,605.7 1092,604.6 1093.4,603.7 1094.7,603.1 1096.1,602.7 1097.4,602.3 1098.8,602 1100.3,601.7 1101.7,601.4 1103.2,601.2 1104.8,601 1106.3,600.8 1107.9,600.6 1109.4,600.5 1111,600.3 1112.5,600.2 1114,600.1 1115.5,600 1117,599.9 1118.5,599.8 1120,599.7 1121.5,599.6 1123,599.5 1124.6,599.4 1126.1,599.4 1127.6,599.3 1129.1,599.2 1130.6,599.2 1132.1,599.1 1133.6,599.1 1135.1,599 1136.6,598.9 1138.1,598.9 1139.6,598.8 1141.1,598.8 1142.6,598.7 1144.1,598.6 1145.6,598.6 1147.1,598.5 1148.6,598.4 1150.1,598.4 1151.6,598.3 1153.1,598.2 1154.6,598.2 1156.1,598.1 1157.6,598.1 1159.1,598 1160.6,597.9 1162.2,597.9 1163.7,597.8 1165.2,597.7 1166.7,597.7 1168.2,597.6 1169.7,597.6 1171.2,597.5 1172.7,597.5 1174.2,597.4 1175.7,597.3 1177.2,597.3 1178.7,597.2 1180.2,597.2 1181.7,597.1 1183.2,597 1184.7,597 1186.2,596.9 1187.7,596.9 1189.2,596.8 1190.7,596.7 1192.2,596.7 1193.7,596.6 1195.2,596.6 1196.7,596.5 1198.2,596.4 1199.7,596.4 1201.2,596.3 1202.7,596.3 1204.2,596.2 1205.8,596.1 1207.3,596.1 1208.8,596 1210.3,595.9 1211.8,595.9 1213.3,595.8 1214.8,595.8 1216.3,595.7 1217.8,595.6 1219.3,595.6 1220.8,595.5 1222.3,595.5 1223.8,595.4 1225.3,595.3 1226.8,595.3 1228.3,595.2 1229.8,595.2 1231.3,595.1 1232.8,595 1234.3,595 1235.8,594.9 1237.3,594.9 1238.8,594.8 1240.3,594.7 1241.8,594.7 1243.3,594.6 1244.8,594.5 1246.3,594.5 1247.9,594.4 1249.4,594.4 1250.9,594.3 1252.4,594.2 1253.9,594.2 1255.4,594.1 1256.9,594.1 1258.4,594 1259.9,593.9 1261.4,593.9 1262.9,593.8 1264.4,593.8 1265.9,593.7 1267.4,593.6 1268.9,593.6 1270.4,593.5 1271.9,593.4 1273.4,593.4 1274.9,593.3 1276.4,593.3 1277.9,593.2 1279.4,593.1 1280.9,593.1 1282.4,593 1283.9,593 1285.4,592.9 1286.9,592.8 1288.4,592.8 1289.9,592.7 1291.5,592.7 1293,592.6 1294.5,592.5 1296,592.5 1297.5,592.4 1299,592.3 1300.5,592.3 1302,592.2 1303.5,592.2 1305,592.1 1306.5,592 1308,592 1309.5,591.9 1311,591.9 1312.5,591.8" fill="none" stroke="#00f400" stroke-width="3.2" stroke-linejoin="round" />
<text x="832.5" y="583.5" font-size="38" text-anchor="end" >5</text>
<text x="833" y="787.5" font-size="38" text-anchor="end" >0</text>
<text x="832.5" y="991" font-size="38" text-anchor="end" >-5</text>
<text x="843.3" y="1023.8" font-size="38" text-anchor="middle" >900</text>
<text x="972.5" y="1023.8" font-size="38" text-anchor="middle" >800</text>
<text x="1101.8" y="1023.8" font-size="38" text-anchor="middle" >700</text>
<text x="1230.5" y="1023.8" font-size="38" text-anchor="middle" >600</text>
<text x="1359.5" y="1023.8" font-size="38" text-anchor="middle" >500</text>
<text x="1488.8" y="1023.8" font-size="38" text-anchor="middle" >400</text>
<text x="1166.2" y="1072.5" font-size="43" text-anchor="middle" >Temperature (K)</text>
<text x="0" y="0" transform="translate(790 773.8) rotate(-90)" font-size="42.6" text-anchor="middle" >log of % of (fcc+hcp)</text>
<text x="887.5" y="640" font-size="38" >(d)</text>
<line x1="1219" y1="829.8" x2="1237.2" y2="829.8" stroke="#ff12f0" stroke-width="3.3" />
<text x="1239" y="841.4" font-size="38.8" >5.83x10</text>
<text x="1368.5" y="820.9" font-size="30" >12</text>
<text x="1409" y="841.4" font-size="38.5" >Ks</text>
<text x="1452.5" y="821.1" font-size="29.5" >-1</text>
<line x1="1216.3" y1="890.8" x2="1234.5" y2="890.8" stroke="#f20a0a" stroke-width="3.3" />
<text x="1238" y="904.1" font-size="38.8" >5.83x10</text>
<text x="1366" y="879.6" font-size="30" >11</text>
<text x="1408" y="904.1" font-size="38.5" >Ks</text>
<text x="1451.5" y="883.8" font-size="29.5" >-1</text>
<line x1="1215" y1="950.2" x2="1233.2" y2="950.2" stroke="#00f400" stroke-width="3.3" />
<text x="1239" y="963.6" font-size="38.8" >5.83x10</text>
<text x="1368.5" y="936.1" font-size="30" >10</text>
<text x="1409" y="963.6" font-size="38.5" >Ks</text>
<text x="1452.5" y="943.3" font-size="29.5" >-1</text>
<rect x="461.9" y="1156.4" width="813.9" height="527.4" fill="none" stroke="#7c7c7c" stroke-width="1.3"/>
<path d="M476.5 1683.8v-7.7M476.5 1156.4v7.7M631.8 1683.8v-7.7M631.8 1156.4v7.7M787 1683.8v-7.7M787 1156.4v7.7M942.2 1683.8v-7.7M942.2 1156.4v7.7M1097.5 1683.8v-7.7M1097.5 1156.4v7.7M1252.8 1683.8v-7.7M1252.8 1156.4v7.7M461.9 1288h7.7M1275.8 1288h-7.7M461.9 1420h7.7M1275.8 1420h-7.7M461.9 1552h7.7M1275.8 1552h-7.7" fill="none" stroke="#7c7c7c" stroke-width="1.3"/>
<polyline points="476.5,1670 555,1643.8 632,1635 787.5,1619 943,1551 1020.5,1485.8 1097.5,1409 1136.5,1369.5 1175.5,1324 1252.8,1214.5" fill="none" stroke="#0a0a0a" stroke-width="1.9" stroke-linejoin="round" />
<path d="M476.5 1668V1672M469 1668h15M469 1672h15M555 1638.8V1648M547.5 1638.8h15M547.5 1648h15M632 1631V1639.5M624.5 1631h15M624.5 1639.5h15M787.5 1611V1627M780 1611h15M780 1627h15M943 1535V1566M935.5 1535h15M935.5 1566h15M1020.5 1461.5V1509M1013 1461.5h15M1013 1509h15M1097.5 1375.8V1441.8M1090 1375.8h15M1090 1441.8h15M1136.5 1331.5V1407.5M1129 1331.5h15M1129 1407.5h15M1175.5 1281V1367.5M1168 1281h15M1168 1367.5h15M1252.8 1157.5V1271M1245.3 1157.5h15M1245.3 1271h15" fill="none" stroke="#0a0a0a" stroke-width="1.9"/>
<circle cx="476.5" cy="1670" r="4.8" fill="none" stroke="#0a0a0a" stroke-width="1.4"/>
<circle cx="555" cy="1643.8" r="4.8" fill="none" stroke="#0a0a0a" stroke-width="1.4"/>
<circle cx="632" cy="1635" r="4.8" fill="none" stroke="#0a0a0a" stroke-width="1.4"/>
<circle cx="787.5" cy="1619" r="4.8" fill="none" stroke="#0a0a0a" stroke-width="1.4"/>
<circle cx="943" cy="1551" r="4.8" fill="none" stroke="#0a0a0a" stroke-width="1.4"/>
<circle cx="1020.5" cy="1485.8" r="4.8" fill="none" stroke="#0a0a0a" stroke-width="1.4"/>
<circle cx="1097.5" cy="1409" r="4.8" fill="none" stroke="#0a0a0a" stroke-width="1.4"/>
<circle cx="1136.5" cy="1369.5" r="4.8" fill="none" stroke="#0a0a0a" stroke-width="1.4"/>
<circle cx="1175.5" cy="1324" r="4.8" fill="none" stroke="#0a0a0a" stroke-width="1.4"/>
<circle cx="1252.8" cy="1214.5" r="4.8" fill="none" stroke="#0a0a0a" stroke-width="1.4"/>
<text x="449" y="1173.8" font-size="46" text-anchor="end" >2</text>
<text x="449" y="1306" font-size="46" text-anchor="end" >1.5</text>
<text x="449" y="1438" font-size="46" text-anchor="end" >1</text>
<text x="449" y="1570" font-size="46" text-anchor="end" >0.5</text>
<text x="449" y="1701.8" font-size="46" text-anchor="end" >0</text>
<text x="476.5" y="1739.5" font-size="46" text-anchor="middle" >300</text>
<text x="631.8" y="1739.5" font-size="46" text-anchor="middle" >400</text>
<text x="787" y="1739.5" font-size="46" text-anchor="middle" >500</text>
<text x="942.2" y="1739.5" font-size="46" text-anchor="middle" >600</text>
<text x="1097.5" y="1739.5" font-size="46" text-anchor="middle" >700</text>
<text x="1252.8" y="1739.5" font-size="46" text-anchor="middle" >800</text>
<text x="868.8" y="1788.8" font-size="42" text-anchor="middle" >Temperature (K)</text>
<text x="0" y="0" transform="translate(380 1698.6) rotate(-90)" font-size="36" >Self Diffusion Coefficient (10</text>
<text x="0" y="0" transform="translate(361.7 1266) rotate(-90)" font-size="27" textLength="20" lengthAdjust="spacingAndGlyphs" >-9</text>
<text x="0" y="0" transform="translate(380 1236) rotate(-90)" font-size="36" textLength="25.5" lengthAdjust="spacingAndGlyphs" >m</text>
<text x="0" y="0" transform="translate(361.7 1209) rotate(-90)" font-size="27" >2</text>
<text x="0" y="0" transform="translate(380 1192.5) rotate(-90)" font-size="36" textLength="12" lengthAdjust="spacingAndGlyphs" >s</text>
<text x="0" y="0" transform="translate(361.7 1177.7) rotate(-90)" font-size="27" textLength="20.5" lengthAdjust="spacingAndGlyphs" >-1</text>
<text x="0" y="0" transform="translate(380 1157) rotate(-90)" font-size="36" >)</text>
<text x="588.5" y="1227.5" font-size="49" >(e)</text>
</g>
</svg>
</body>
</html>
